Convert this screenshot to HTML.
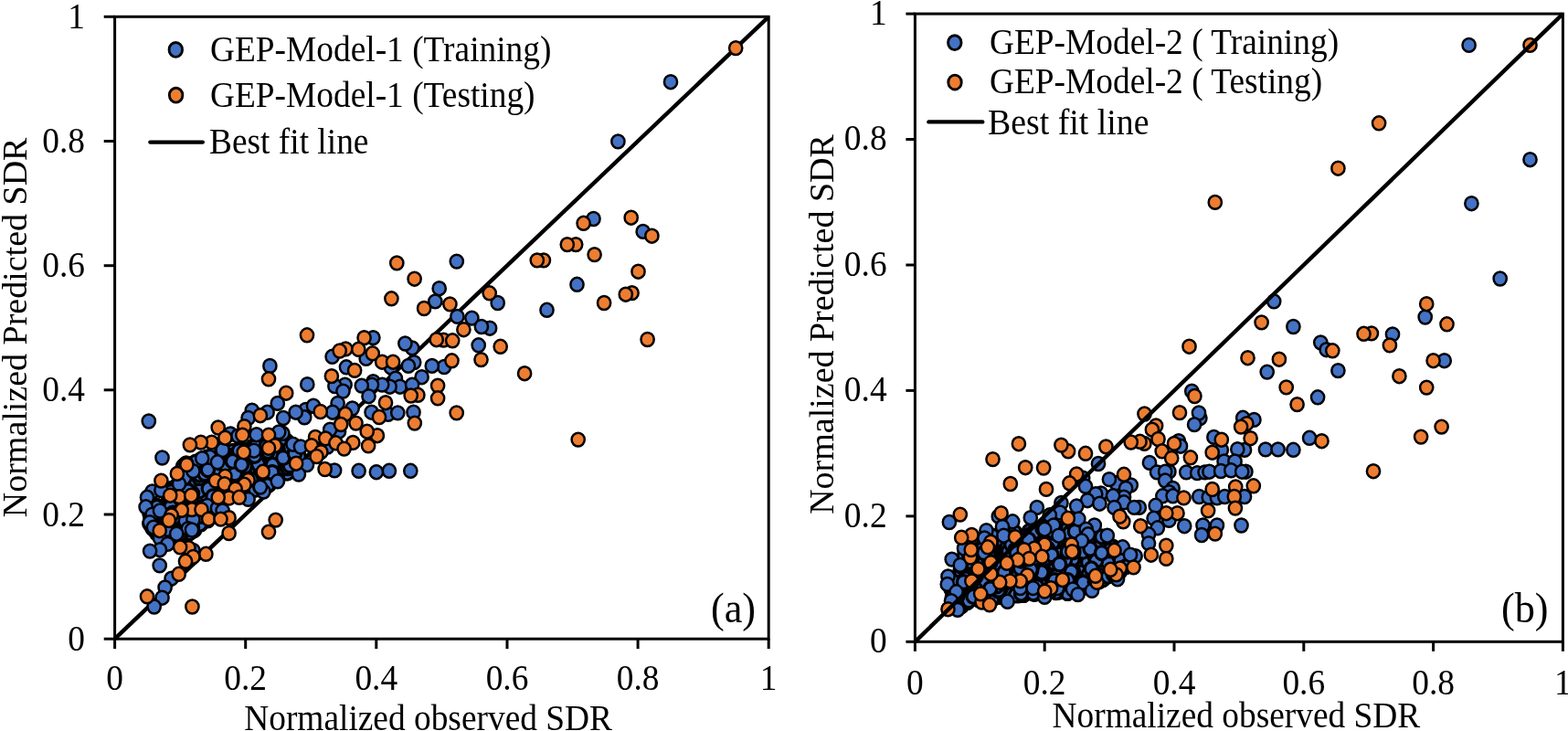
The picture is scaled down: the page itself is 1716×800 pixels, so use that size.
<!DOCTYPE html>
<html lang="en"><head><meta charset="utf-8"><title>GEP models: normalized predicted vs observed SDR</title>
<style>
html,body{margin:0;padding:0;background:#fff;}
body{width:1716px;height:800px;overflow:hidden;}
svg{display:block;font-family:"Liberation Serif",serif;fill:#000;}
ellipse{stroke:#000}
ellipse:not([stroke-width]){stroke-width:2.5}
</style></head><body>
<svg width="1716" height="800" viewBox="0 0 1716 800">
<rect width="1716" height="800" fill="#fff"/>

<g id="plot-a">
<rect x="125.6" y="18.3" width="715.6" height="680.9" fill="none" stroke="#000" stroke-width="3.0"/>
<line x1="125.6" y1="699.2" x2="125.6" y2="710.1" stroke="#000" stroke-width="3.0"/>
<line x1="113.7" y1="699.2" x2="125.6" y2="699.2" stroke="#000" stroke-width="3.0"/>
<line x1="268.7" y1="699.2" x2="268.7" y2="710.1" stroke="#000" stroke-width="3.0"/>
<line x1="113.7" y1="563.0" x2="125.6" y2="563.0" stroke="#000" stroke-width="3.0"/>
<line x1="411.8" y1="699.2" x2="411.8" y2="710.1" stroke="#000" stroke-width="3.0"/>
<line x1="113.7" y1="426.8" x2="125.6" y2="426.8" stroke="#000" stroke-width="3.0"/>
<line x1="555.0" y1="699.2" x2="555.0" y2="710.1" stroke="#000" stroke-width="3.0"/>
<line x1="113.7" y1="290.7" x2="125.6" y2="290.7" stroke="#000" stroke-width="3.0"/>
<line x1="698.1" y1="699.2" x2="698.1" y2="710.1" stroke="#000" stroke-width="3.0"/>
<line x1="113.7" y1="154.5" x2="125.6" y2="154.5" stroke="#000" stroke-width="3.0"/>
<line x1="841.2" y1="699.2" x2="841.2" y2="710.1" stroke="#000" stroke-width="3.0"/>
<line x1="113.7" y1="18.3" x2="125.6" y2="18.3" stroke="#000" stroke-width="3.0"/>
<line x1="125.6" y1="699.2" x2="841.2" y2="18.3" stroke="#000" stroke-width="4.4"/>
<g>
<ellipse cx="303.3" cy="501.2" rx="7.1" ry="7.45" fill="#4472C4" stroke-width="3.3"/>
<ellipse cx="265.2" cy="492.4" rx="7.1" ry="7.45" fill="#4472C4" stroke-width="3.3"/>
<ellipse cx="264.6" cy="493.2" rx="7.1" ry="7.45" fill="#4472C4" stroke-width="3.3"/>
<ellipse cx="263.3" cy="504.9" rx="7.1" ry="7.45" fill="#4472C4" stroke-width="3.3"/>
<ellipse cx="287.7" cy="494.2" rx="7.1" ry="7.45" fill="#4472C4" stroke-width="3.3"/>
<ellipse cx="231.9" cy="544.3" rx="7.1" ry="7.45" fill="#4472C4" stroke-width="3.3"/>
<ellipse cx="242.9" cy="539.0" rx="7.1" ry="7.45" fill="#4472C4" stroke-width="3.3"/>
<ellipse cx="267.0" cy="529.4" rx="7.1" ry="7.45" fill="#4472C4" stroke-width="3.3"/>
<ellipse cx="216.2" cy="515.7" rx="7.1" ry="7.45" fill="#4472C4" stroke-width="3.3"/>
<ellipse cx="300.7" cy="497.0" rx="7.1" ry="7.45" fill="#4472C4" stroke-width="3.3"/>
<ellipse cx="310.4" cy="495.9" rx="7.1" ry="7.45" fill="#4472C4" stroke-width="3.3"/>
<ellipse cx="299.9" cy="517.8" rx="7.1" ry="7.45" fill="#4472C4" stroke-width="3.3"/>
<ellipse cx="209.3" cy="519.9" rx="7.1" ry="7.45" fill="#4472C4" stroke-width="3.3"/>
<ellipse cx="261.3" cy="492.1" rx="7.1" ry="7.45" fill="#4472C4" stroke-width="3.3"/>
<ellipse cx="286.6" cy="487.1" rx="7.1" ry="7.45" fill="#4472C4" stroke-width="3.3"/>
<ellipse cx="236.1" cy="525.7" rx="7.1" ry="7.45" fill="#4472C4" stroke-width="3.3"/>
<ellipse cx="293.9" cy="513.0" rx="7.1" ry="7.45" fill="#4472C4" stroke-width="3.3"/>
<ellipse cx="229.9" cy="521.3" rx="7.1" ry="7.45" fill="#4472C4" stroke-width="3.3"/>
<ellipse cx="211.6" cy="531.5" rx="7.1" ry="7.45" fill="#4472C4" stroke-width="3.3"/>
<ellipse cx="284.7" cy="517.9" rx="7.1" ry="7.45" fill="#4472C4" stroke-width="3.3"/>
<ellipse cx="324.2" cy="496.9" rx="7.1" ry="7.45" fill="#4472C4" stroke-width="3.3"/>
<ellipse cx="261.0" cy="515.5" rx="7.1" ry="7.45" fill="#4472C4" stroke-width="3.3"/>
<ellipse cx="254.9" cy="493.9" rx="7.1" ry="7.45" fill="#4472C4" stroke-width="3.3"/>
<ellipse cx="271.3" cy="533.4" rx="7.1" ry="7.45" fill="#4472C4" stroke-width="3.3"/>
<ellipse cx="241.7" cy="532.9" rx="7.1" ry="7.45" fill="#4472C4" stroke-width="3.3"/>
<ellipse cx="322.4" cy="508.8" rx="7.1" ry="7.45" fill="#4472C4" stroke-width="3.3"/>
<ellipse cx="217.8" cy="538.6" rx="7.1" ry="7.45" fill="#4472C4" stroke-width="3.3"/>
<ellipse cx="282.0" cy="515.4" rx="7.1" ry="7.45" fill="#4472C4" stroke-width="3.3"/>
<ellipse cx="218.6" cy="508.6" rx="7.1" ry="7.45" fill="#4472C4" stroke-width="3.3"/>
<ellipse cx="283.7" cy="502.9" rx="7.1" ry="7.45" fill="#4472C4" stroke-width="3.3"/>
<ellipse cx="210.7" cy="522.0" rx="7.1" ry="7.45" fill="#4472C4" stroke-width="3.3"/>
<ellipse cx="313.4" cy="503.3" rx="7.1" ry="7.45" fill="#4472C4" stroke-width="3.3"/>
<ellipse cx="225.0" cy="516.7" rx="7.1" ry="7.45" fill="#4472C4" stroke-width="3.3"/>
<ellipse cx="283.9" cy="525.2" rx="7.1" ry="7.45" fill="#4472C4" stroke-width="3.3"/>
<ellipse cx="299.4" cy="498.7" rx="7.1" ry="7.45" fill="#4472C4" stroke-width="3.3"/>
<ellipse cx="244.8" cy="505.4" rx="7.1" ry="7.45" fill="#4472C4" stroke-width="3.3"/>
<ellipse cx="258.0" cy="519.0" rx="7.1" ry="7.45" fill="#4472C4" stroke-width="3.3"/>
<ellipse cx="236.6" cy="527.6" rx="7.1" ry="7.45" fill="#4472C4" stroke-width="3.3"/>
<ellipse cx="282.8" cy="507.9" rx="7.1" ry="7.45" fill="#4472C4" stroke-width="3.3"/>
<ellipse cx="248.0" cy="499.0" rx="7.1" ry="7.45" fill="#4472C4" stroke-width="3.3"/>
<ellipse cx="290.4" cy="512.9" rx="7.1" ry="7.45" fill="#4472C4" stroke-width="3.3"/>
<ellipse cx="232.7" cy="541.3" rx="7.1" ry="7.45" fill="#4472C4" stroke-width="3.3"/>
<ellipse cx="281.4" cy="522.3" rx="7.1" ry="7.45" fill="#4472C4" stroke-width="3.3"/>
<ellipse cx="270.6" cy="494.1" rx="7.1" ry="7.45" fill="#4472C4" stroke-width="3.3"/>
<ellipse cx="233.3" cy="540.1" rx="7.1" ry="7.45" fill="#4472C4" stroke-width="3.3"/>
<ellipse cx="297.3" cy="484.6" rx="7.1" ry="7.45" fill="#4472C4" stroke-width="3.3"/>
<ellipse cx="302.2" cy="497.0" rx="7.1" ry="7.45" fill="#4472C4" stroke-width="3.3"/>
<ellipse cx="198.7" cy="515.1" rx="7.1" ry="7.45" fill="#4472C4" stroke-width="3.3"/>
<ellipse cx="298.3" cy="504.0" rx="7.1" ry="7.45" fill="#4472C4" stroke-width="3.3"/>
<ellipse cx="212.3" cy="518.7" rx="7.1" ry="7.45" fill="#4472C4" stroke-width="3.3"/>
<ellipse cx="223.8" cy="537.2" rx="7.1" ry="7.45" fill="#4472C4" stroke-width="3.3"/>
<ellipse cx="262.8" cy="524.3" rx="7.1" ry="7.45" fill="#4472C4" stroke-width="3.3"/>
<ellipse cx="242.3" cy="515.8" rx="7.1" ry="7.45" fill="#4472C4" stroke-width="3.3"/>
<ellipse cx="296.4" cy="491.8" rx="7.1" ry="7.45" fill="#4472C4" stroke-width="3.3"/>
<ellipse cx="260.2" cy="519.9" rx="7.1" ry="7.45" fill="#4472C4" stroke-width="3.3"/>
<ellipse cx="296.9" cy="492.5" rx="7.1" ry="7.45" fill="#4472C4" stroke-width="3.3"/>
<ellipse cx="234.0" cy="534.6" rx="7.1" ry="7.45" fill="#4472C4" stroke-width="3.3"/>
<ellipse cx="228.1" cy="533.6" rx="7.1" ry="7.45" fill="#4472C4" stroke-width="3.3"/>
<ellipse cx="200.4" cy="518.4" rx="7.1" ry="7.45" fill="#4472C4" stroke-width="3.3"/>
<ellipse cx="207.6" cy="542.6" rx="7.1" ry="7.45" fill="#4472C4" stroke-width="3.3"/>
<ellipse cx="214.7" cy="530.0" rx="7.1" ry="7.45" fill="#4472C4" stroke-width="3.3"/>
<ellipse cx="205.8" cy="519.9" rx="7.1" ry="7.45" fill="#4472C4" stroke-width="3.3"/>
<ellipse cx="217.5" cy="546.0" rx="7.1" ry="7.45" fill="#4472C4" stroke-width="3.3"/>
<ellipse cx="314.3" cy="517.7" rx="7.1" ry="7.45" fill="#4472C4" stroke-width="3.3"/>
<ellipse cx="205.4" cy="529.2" rx="7.1" ry="7.45" fill="#4472C4" stroke-width="3.3"/>
<ellipse cx="210.7" cy="532.5" rx="7.1" ry="7.45" fill="#4472C4" stroke-width="3.3"/>
<ellipse cx="294.9" cy="518.1" rx="7.1" ry="7.45" fill="#4472C4" stroke-width="3.3"/>
<ellipse cx="216.7" cy="545.2" rx="7.1" ry="7.45" fill="#4472C4" stroke-width="3.3"/>
<ellipse cx="215.1" cy="505.8" rx="7.1" ry="7.45" fill="#4472C4" stroke-width="3.3"/>
<ellipse cx="283.3" cy="524.7" rx="7.1" ry="7.45" fill="#4472C4" stroke-width="3.3"/>
<ellipse cx="264.7" cy="523.9" rx="7.1" ry="7.45" fill="#4472C4" stroke-width="3.3"/>
<ellipse cx="236.1" cy="507.7" rx="7.1" ry="7.45" fill="#4472C4" stroke-width="3.3"/>
<ellipse cx="282.7" cy="509.2" rx="7.1" ry="7.45" fill="#4472C4" stroke-width="3.3"/>
<ellipse cx="226.7" cy="518.5" rx="7.1" ry="7.45" fill="#4472C4" stroke-width="3.3"/>
<ellipse cx="207.2" cy="528.9" rx="7.1" ry="7.45" fill="#4472C4" stroke-width="3.3"/>
<ellipse cx="265.9" cy="523.0" rx="7.1" ry="7.45" fill="#4472C4" stroke-width="3.3"/>
<ellipse cx="299.3" cy="522.5" rx="7.1" ry="7.45" fill="#4472C4" stroke-width="3.3"/>
<ellipse cx="257.9" cy="528.4" rx="7.1" ry="7.45" fill="#4472C4" stroke-width="3.3"/>
<ellipse cx="185.5" cy="542.5" rx="7.1" ry="7.45" fill="#4472C4" stroke-width="3.3"/>
<ellipse cx="211.6" cy="522.3" rx="7.1" ry="7.45" fill="#4472C4" stroke-width="3.3"/>
<ellipse cx="213.7" cy="518.2" rx="7.1" ry="7.45" fill="#4472C4" stroke-width="3.3"/>
<ellipse cx="298.7" cy="498.2" rx="7.1" ry="7.45" fill="#4472C4" stroke-width="3.3"/>
<ellipse cx="264.8" cy="532.8" rx="7.1" ry="7.45" fill="#4472C4" stroke-width="3.3"/>
<ellipse cx="297.4" cy="503.2" rx="7.1" ry="7.45" fill="#4472C4" stroke-width="3.3"/>
<ellipse cx="200.9" cy="521.3" rx="7.1" ry="7.45" fill="#4472C4" stroke-width="3.3"/>
<ellipse cx="227.1" cy="500.4" rx="7.1" ry="7.45" fill="#4472C4" stroke-width="3.3"/>
<ellipse cx="212.9" cy="507.3" rx="7.1" ry="7.45" fill="#4472C4" stroke-width="3.3"/>
<ellipse cx="282.3" cy="507.9" rx="7.1" ry="7.45" fill="#4472C4" stroke-width="3.3"/>
<ellipse cx="277.0" cy="528.9" rx="7.1" ry="7.45" fill="#4472C4" stroke-width="3.3"/>
<ellipse cx="301.1" cy="518.8" rx="7.1" ry="7.45" fill="#4472C4" stroke-width="3.3"/>
<ellipse cx="261.0" cy="524.4" rx="7.1" ry="7.45" fill="#4472C4" stroke-width="3.3"/>
<ellipse cx="316.8" cy="492.2" rx="7.1" ry="7.45" fill="#4472C4" stroke-width="3.3"/>
<ellipse cx="244.0" cy="527.3" rx="7.1" ry="7.45" fill="#4472C4" stroke-width="3.3"/>
<ellipse cx="221.2" cy="502.3" rx="7.1" ry="7.45" fill="#4472C4" stroke-width="3.3"/>
<ellipse cx="242.7" cy="507.3" rx="7.1" ry="7.45" fill="#4472C4" stroke-width="3.3"/>
<ellipse cx="276.4" cy="529.6" rx="7.1" ry="7.45" fill="#4472C4" stroke-width="3.3"/>
<ellipse cx="215.8" cy="522.0" rx="7.1" ry="7.45" fill="#4472C4" stroke-width="3.3"/>
<ellipse cx="292.4" cy="492.0" rx="7.1" ry="7.45" fill="#4472C4" stroke-width="3.3"/>
<ellipse cx="238.9" cy="502.1" rx="7.1" ry="7.45" fill="#4472C4" stroke-width="3.3"/>
<ellipse cx="274.2" cy="502.4" rx="7.1" ry="7.45" fill="#4472C4" stroke-width="3.3"/>
<ellipse cx="270.3" cy="511.5" rx="7.1" ry="7.45" fill="#4472C4" stroke-width="3.3"/>
<ellipse cx="233.0" cy="507.3" rx="7.1" ry="7.45" fill="#4472C4" stroke-width="3.3"/>
<ellipse cx="202.2" cy="531.4" rx="7.1" ry="7.45" fill="#4472C4" stroke-width="3.3"/>
<ellipse cx="237.0" cy="526.4" rx="7.1" ry="7.45" fill="#4472C4" stroke-width="3.3"/>
<ellipse cx="299.1" cy="490.5" rx="7.1" ry="7.45" fill="#4472C4" stroke-width="3.3"/>
<ellipse cx="293.0" cy="496.9" rx="7.1" ry="7.45" fill="#4472C4" stroke-width="3.3"/>
<ellipse cx="325.6" cy="496.5" rx="7.1" ry="7.45" fill="#4472C4" stroke-width="3.3"/>
<ellipse cx="256.7" cy="513.7" rx="7.1" ry="7.45" fill="#4472C4" stroke-width="3.3"/>
<ellipse cx="303.6" cy="520.3" rx="7.1" ry="7.45" fill="#4472C4" stroke-width="3.3"/>
<ellipse cx="311.5" cy="502.6" rx="7.1" ry="7.45" fill="#4472C4" stroke-width="3.3"/>
<ellipse cx="282.9" cy="530.6" rx="7.1" ry="7.45" fill="#4472C4" stroke-width="3.3"/>
<ellipse cx="296.8" cy="490.1" rx="7.1" ry="7.45" fill="#4472C4" stroke-width="3.3"/>
<ellipse cx="268.4" cy="524.0" rx="7.1" ry="7.45" fill="#4472C4" stroke-width="3.3"/>
<ellipse cx="325.3" cy="502.0" rx="7.1" ry="7.45" fill="#4472C4" stroke-width="3.3"/>
<ellipse cx="276.3" cy="497.2" rx="7.1" ry="7.45" fill="#4472C4" stroke-width="3.3"/>
<ellipse cx="196.6" cy="526.1" rx="7.1" ry="7.45" fill="#4472C4" stroke-width="3.3"/>
<ellipse cx="280.8" cy="514.2" rx="7.1" ry="7.45" fill="#4472C4" stroke-width="3.3"/>
<ellipse cx="221.4" cy="536.9" rx="7.1" ry="7.45" fill="#4472C4" stroke-width="3.3"/>
<ellipse cx="298.6" cy="497.0" rx="7.1" ry="7.45" fill="#4472C4" stroke-width="3.3"/>
<ellipse cx="237.6" cy="519.3" rx="7.1" ry="7.45" fill="#4472C4" stroke-width="3.3"/>
<ellipse cx="185.6" cy="543.5" rx="7.1" ry="7.45" fill="#4472C4" stroke-width="3.3"/>
<ellipse cx="280.9" cy="515.3" rx="7.1" ry="7.45" fill="#4472C4" stroke-width="3.3"/>
<ellipse cx="291.9" cy="529.8" rx="7.1" ry="7.45" fill="#4472C4" stroke-width="3.3"/>
<ellipse cx="234.1" cy="542.1" rx="7.1" ry="7.45" fill="#4472C4" stroke-width="3.3"/>
<ellipse cx="251.5" cy="517.6" rx="7.1" ry="7.45" fill="#4472C4" stroke-width="3.3"/>
<ellipse cx="264.0" cy="490.5" rx="7.1" ry="7.45" fill="#4472C4" stroke-width="3.3"/>
<ellipse cx="314.2" cy="490.8" rx="7.1" ry="7.45" fill="#4472C4" stroke-width="3.3"/>
<ellipse cx="282.5" cy="517.8" rx="7.1" ry="7.45" fill="#4472C4" stroke-width="3.3"/>
<ellipse cx="219.6" cy="527.3" rx="7.1" ry="7.45" fill="#4472C4" stroke-width="3.3"/>
<ellipse cx="258.1" cy="505.7" rx="7.1" ry="7.45" fill="#4472C4" stroke-width="3.3"/>
<ellipse cx="196.8" cy="541.3" rx="7.1" ry="7.45" fill="#4472C4" stroke-width="3.3"/>
<ellipse cx="276.1" cy="492.9" rx="7.1" ry="7.45" fill="#4472C4" stroke-width="3.3"/>
<ellipse cx="300.1" cy="493.9" rx="7.1" ry="7.45" fill="#4472C4" stroke-width="3.3"/>
<ellipse cx="279.4" cy="519.8" rx="7.1" ry="7.45" fill="#4472C4" stroke-width="3.3"/>
<ellipse cx="299.1" cy="508.6" rx="7.1" ry="7.45" fill="#4472C4" stroke-width="3.3"/>
<ellipse cx="258.6" cy="533.9" rx="7.1" ry="7.45" fill="#4472C4" stroke-width="3.3"/>
<ellipse cx="291.1" cy="523.0" rx="7.1" ry="7.45" fill="#4472C4" stroke-width="3.3"/>
<ellipse cx="244.8" cy="499.9" rx="7.1" ry="7.45" fill="#4472C4" stroke-width="3.3"/>
<ellipse cx="300.2" cy="525.2" rx="7.1" ry="7.45" fill="#4472C4" stroke-width="3.3"/>
<ellipse cx="279.6" cy="518.0" rx="7.1" ry="7.45" fill="#4472C4" stroke-width="3.3"/>
<ellipse cx="298.2" cy="519.9" rx="7.1" ry="7.45" fill="#4472C4" stroke-width="3.3"/>
<ellipse cx="220.7" cy="506.1" rx="7.1" ry="7.45" fill="#4472C4" stroke-width="3.3"/>
<ellipse cx="227.5" cy="500.8" rx="7.1" ry="7.45" fill="#4472C4" stroke-width="3.3"/>
<ellipse cx="272.2" cy="511.0" rx="7.1" ry="7.45" fill="#4472C4" stroke-width="3.3"/>
<ellipse cx="251.8" cy="519.9" rx="7.1" ry="7.45" fill="#4472C4" stroke-width="3.3"/>
<ellipse cx="233.5" cy="514.7" rx="7.1" ry="7.45" fill="#4472C4" stroke-width="3.3"/>
<ellipse cx="193.3" cy="542.9" rx="7.1" ry="7.45" fill="#4472C4" stroke-width="3.3"/>
<ellipse cx="300.3" cy="495.4" rx="7.1" ry="7.45" fill="#4472C4" stroke-width="3.3"/>
<ellipse cx="201.4" cy="523.4" rx="7.1" ry="7.45" fill="#4472C4" stroke-width="3.3"/>
<ellipse cx="303.7" cy="488.6" rx="7.1" ry="7.45" fill="#4472C4" stroke-width="3.3"/>
<ellipse cx="184.1" cy="543.0" rx="7.1" ry="7.45" fill="#4472C4" stroke-width="3.3"/>
<ellipse cx="315.8" cy="498.8" rx="7.1" ry="7.45" fill="#4472C4" stroke-width="3.3"/>
<ellipse cx="303.9" cy="501.2" rx="7.1" ry="7.45" fill="#4472C4" stroke-width="3.3"/>
<ellipse cx="271.4" cy="496.5" rx="7.1" ry="7.45" fill="#4472C4" stroke-width="3.3"/>
<ellipse cx="277.2" cy="488.4" rx="7.1" ry="7.45" fill="#4472C4" stroke-width="3.3"/>
<ellipse cx="230.2" cy="512.2" rx="7.1" ry="7.45" fill="#4472C4" stroke-width="3.3"/>
<ellipse cx="278.9" cy="522.8" rx="7.1" ry="7.45" fill="#4472C4" stroke-width="3.3"/>
<ellipse cx="259.0" cy="536.9" rx="7.1" ry="7.45" fill="#4472C4" stroke-width="3.3"/>
<ellipse cx="282.8" cy="505.0" rx="7.1" ry="7.45" fill="#4472C4" stroke-width="3.3"/>
<ellipse cx="319.4" cy="507.1" rx="7.1" ry="7.45" fill="#4472C4" stroke-width="3.3"/>
<ellipse cx="303.0" cy="505.7" rx="7.1" ry="7.45" fill="#4472C4" stroke-width="3.3"/>
<ellipse cx="241.2" cy="502.8" rx="7.1" ry="7.45" fill="#4472C4" stroke-width="3.3"/>
<ellipse cx="264.0" cy="523.8" rx="7.1" ry="7.45" fill="#4472C4" stroke-width="3.3"/>
<ellipse cx="238.1" cy="539.9" rx="7.1" ry="7.45" fill="#4472C4" stroke-width="3.3"/>
<ellipse cx="209.7" cy="508.3" rx="7.1" ry="7.45" fill="#4472C4" stroke-width="3.3"/>
<ellipse cx="243.9" cy="503.3" rx="7.1" ry="7.45" fill="#4472C4" stroke-width="3.3"/>
<ellipse cx="239.3" cy="499.6" rx="7.1" ry="7.45" fill="#4472C4" stroke-width="3.3"/>
<ellipse cx="315.3" cy="505.6" rx="7.1" ry="7.45" fill="#4472C4" stroke-width="3.3"/>
<ellipse cx="249.9" cy="517.1" rx="7.1" ry="7.45" fill="#4472C4" stroke-width="3.3"/>
<ellipse cx="278.4" cy="534.3" rx="7.1" ry="7.45" fill="#4472C4" stroke-width="3.3"/>
<ellipse cx="258.2" cy="510.0" rx="7.1" ry="7.45" fill="#4472C4" stroke-width="3.3"/>
<ellipse cx="242.6" cy="535.8" rx="7.1" ry="7.45" fill="#4472C4" stroke-width="3.3"/>
<ellipse cx="242.8" cy="517.2" rx="7.1" ry="7.45" fill="#4472C4" stroke-width="3.3"/>
<ellipse cx="220.8" cy="502.8" rx="7.1" ry="7.45" fill="#4472C4" stroke-width="3.3"/>
<ellipse cx="193.7" cy="532.4" rx="7.1" ry="7.45" fill="#4472C4" stroke-width="3.3"/>
<ellipse cx="253.9" cy="529.1" rx="7.1" ry="7.45" fill="#4472C4" stroke-width="3.3"/>
<ellipse cx="221.5" cy="502.6" rx="7.1" ry="7.45" fill="#4472C4" stroke-width="3.3"/>
<ellipse cx="297.1" cy="504.3" rx="7.1" ry="7.45" fill="#4472C4" stroke-width="3.3"/>
<ellipse cx="283.6" cy="516.2" rx="7.1" ry="7.45" fill="#4472C4" stroke-width="3.3"/>
<ellipse cx="283.8" cy="503.8" rx="7.1" ry="7.45" fill="#4472C4" stroke-width="3.3"/>
<ellipse cx="197.0" cy="537.3" rx="7.1" ry="7.45" fill="#4472C4" stroke-width="3.3"/>
<ellipse cx="289.6" cy="519.0" rx="7.1" ry="7.45" fill="#4472C4" stroke-width="3.3"/>
<ellipse cx="244.8" cy="526.2" rx="7.1" ry="7.45" fill="#4472C4" stroke-width="3.3"/>
<ellipse cx="217.6" cy="504.8" rx="7.1" ry="7.45" fill="#4472C4" stroke-width="3.3"/>
<ellipse cx="229.0" cy="534.7" rx="7.1" ry="7.45" fill="#4472C4" stroke-width="3.3"/>
<ellipse cx="282.4" cy="510.2" rx="7.1" ry="7.45" fill="#4472C4" stroke-width="3.3"/>
<ellipse cx="280.0" cy="524.9" rx="7.1" ry="7.45" fill="#4472C4" stroke-width="3.3"/>
<ellipse cx="203.1" cy="519.7" rx="7.1" ry="7.45" fill="#4472C4" stroke-width="3.3"/>
<ellipse cx="274.3" cy="494.6" rx="7.1" ry="7.45" fill="#4472C4" stroke-width="3.3"/>
<ellipse cx="211.5" cy="538.1" rx="7.1" ry="7.45" fill="#4472C4" stroke-width="3.3"/>
<ellipse cx="228.7" cy="504.0" rx="7.1" ry="7.45" fill="#4472C4" stroke-width="3.3"/>
<ellipse cx="267.7" cy="496.9" rx="7.1" ry="7.45" fill="#4472C4" stroke-width="3.3"/>
<ellipse cx="272.3" cy="502.8" rx="7.1" ry="7.45" fill="#4472C4" stroke-width="3.3"/>
<ellipse cx="200.0" cy="527.8" rx="7.1" ry="7.45" fill="#4472C4" stroke-width="3.3"/>
<ellipse cx="230.3" cy="510.0" rx="7.1" ry="7.45" fill="#4472C4" stroke-width="3.3"/>
<ellipse cx="325.4" cy="503.4" rx="7.1" ry="7.45" fill="#4472C4" stroke-width="3.3"/>
<ellipse cx="278.1" cy="504.5" rx="7.1" ry="7.45" fill="#4472C4" stroke-width="3.3"/>
<ellipse cx="238.7" cy="509.5" rx="7.1" ry="7.45" fill="#4472C4" stroke-width="3.3"/>
<ellipse cx="276.4" cy="517.8" rx="7.1" ry="7.45" fill="#4472C4" stroke-width="3.3"/>
<ellipse cx="198.4" cy="544.8" rx="7.1" ry="7.45" fill="#4472C4" stroke-width="3.3"/>
<ellipse cx="327.1" cy="499.7" rx="7.1" ry="7.45" fill="#4472C4" stroke-width="3.3"/>
<ellipse cx="232.1" cy="532.3" rx="7.1" ry="7.45" fill="#4472C4" stroke-width="3.3"/>
<ellipse cx="256.4" cy="518.5" rx="7.1" ry="7.45" fill="#4472C4" stroke-width="3.3"/>
<ellipse cx="294.4" cy="530.4" rx="7.1" ry="7.45" fill="#4472C4" stroke-width="3.3"/>
<ellipse cx="221.0" cy="513.4" rx="7.1" ry="7.45" fill="#4472C4" stroke-width="3.3"/>
<ellipse cx="235.8" cy="527.7" rx="7.1" ry="7.45" fill="#4472C4" stroke-width="3.3"/>
<ellipse cx="269.3" cy="531.5" rx="7.1" ry="7.45" fill="#4472C4" stroke-width="3.3"/>
<ellipse cx="258.2" cy="518.2" rx="7.1" ry="7.45" fill="#4472C4" stroke-width="3.3"/>
<ellipse cx="269.1" cy="533.7" rx="7.1" ry="7.45" fill="#4472C4" stroke-width="3.3"/>
<ellipse cx="229.7" cy="535.6" rx="7.1" ry="7.45" fill="#4472C4" stroke-width="3.3"/>
<ellipse cx="268.5" cy="517.7" rx="7.1" ry="7.45" fill="#4472C4" stroke-width="3.3"/>
<ellipse cx="211.5" cy="526.8" rx="7.1" ry="7.45" fill="#4472C4" stroke-width="3.3"/>
<ellipse cx="202.1" cy="509.1" rx="7.1" ry="7.45" fill="#4472C4" stroke-width="3.3"/>
<ellipse cx="320.9" cy="494.5" rx="7.1" ry="7.45" fill="#4472C4" stroke-width="3.3"/>
<ellipse cx="315.0" cy="512.2" rx="7.1" ry="7.45" fill="#4472C4" stroke-width="3.3"/>
<ellipse cx="206.2" cy="539.7" rx="7.1" ry="7.45" fill="#4472C4" stroke-width="3.3"/>
<ellipse cx="245.2" cy="541.3" rx="7.1" ry="7.45" fill="#4472C4" stroke-width="3.3"/>
<ellipse cx="261.7" cy="523.3" rx="7.1" ry="7.45" fill="#4472C4" stroke-width="3.3"/>
<ellipse cx="308.5" cy="495.9" rx="7.1" ry="7.45" fill="#4472C4" stroke-width="3.3"/>
<ellipse cx="227.3" cy="541.1" rx="7.1" ry="7.45" fill="#4472C4" stroke-width="3.3"/>
<ellipse cx="310.8" cy="487.9" rx="7.1" ry="7.45" fill="#4472C4" stroke-width="3.3"/>
<ellipse cx="298.2" cy="487.5" rx="7.1" ry="7.45" fill="#4472C4" stroke-width="3.3"/>
<ellipse cx="311.3" cy="489.1" rx="7.1" ry="7.45" fill="#4472C4" stroke-width="3.3"/>
<ellipse cx="265.4" cy="509.1" rx="7.1" ry="7.45" fill="#4472C4" stroke-width="3.3"/>
<ellipse cx="313.8" cy="492.5" rx="7.1" ry="7.45" fill="#4472C4" stroke-width="3.3"/>
<ellipse cx="256.7" cy="526.8" rx="7.1" ry="7.45" fill="#4472C4" stroke-width="3.3"/>
<ellipse cx="278.2" cy="520.7" rx="7.1" ry="7.45" fill="#4472C4" stroke-width="3.3"/>
<ellipse cx="278.2" cy="507.8" rx="7.1" ry="7.45" fill="#4472C4" stroke-width="3.3"/>
<ellipse cx="279.4" cy="535.9" rx="7.1" ry="7.45" fill="#4472C4" stroke-width="3.3"/>
<ellipse cx="281.3" cy="486.7" rx="7.1" ry="7.45" fill="#4472C4" stroke-width="3.3"/>
<ellipse cx="230.2" cy="511.3" rx="7.1" ry="7.45" fill="#4472C4" stroke-width="3.3"/>
<ellipse cx="237.1" cy="535.7" rx="7.1" ry="7.45" fill="#4472C4" stroke-width="3.3"/>
<ellipse cx="221.3" cy="542.3" rx="7.1" ry="7.45" fill="#4472C4" stroke-width="3.3"/>
<ellipse cx="288.0" cy="530.6" rx="7.1" ry="7.45" fill="#4472C4" stroke-width="3.3"/>
<ellipse cx="237.1" cy="510.1" rx="7.1" ry="7.45" fill="#4472C4" stroke-width="3.3"/>
<ellipse cx="267.0" cy="504.2" rx="7.1" ry="7.45" fill="#4472C4" stroke-width="3.3"/>
<ellipse cx="309.1" cy="494.7" rx="7.1" ry="7.45" fill="#4472C4" stroke-width="3.3"/>
<ellipse cx="262.5" cy="533.1" rx="7.1" ry="7.45" fill="#4472C4" stroke-width="3.3"/>
<ellipse cx="313.4" cy="482.5" rx="7.1" ry="7.45" fill="#4472C4" stroke-width="3.3"/>
<ellipse cx="300.5" cy="485.2" rx="7.1" ry="7.45" fill="#4472C4" stroke-width="3.3"/>
<ellipse cx="287.5" cy="521.1" rx="7.1" ry="7.45" fill="#4472C4" stroke-width="3.3"/>
<ellipse cx="289.8" cy="487.6" rx="7.1" ry="7.45" fill="#4472C4" stroke-width="3.3"/>
<ellipse cx="308.9" cy="487.6" rx="7.1" ry="7.45" fill="#4472C4" stroke-width="3.3"/>
<ellipse cx="283.1" cy="507.4" rx="7.1" ry="7.45" fill="#4472C4" stroke-width="3.3"/>
<ellipse cx="238.7" cy="514.3" rx="7.1" ry="7.45" fill="#4472C4" stroke-width="3.3"/>
<ellipse cx="306.3" cy="500.2" rx="7.1" ry="7.45" fill="#4472C4" stroke-width="3.3"/>
<ellipse cx="198.9" cy="530.0" rx="7.1" ry="7.45" fill="#4472C4" stroke-width="3.3"/>
<ellipse cx="194.4" cy="530.7" rx="7.1" ry="7.45" fill="#4472C4" stroke-width="3.3"/>
<ellipse cx="218.4" cy="523.5" rx="7.1" ry="7.45" fill="#4472C4" stroke-width="3.3"/>
<ellipse cx="293.8" cy="524.2" rx="7.1" ry="7.45" fill="#4472C4" stroke-width="3.3"/>
<ellipse cx="238.3" cy="540.4" rx="7.1" ry="7.45" fill="#4472C4" stroke-width="3.3"/>
<ellipse cx="250.3" cy="498.9" rx="7.1" ry="7.45" fill="#4472C4" stroke-width="3.3"/>
<ellipse cx="251.2" cy="534.8" rx="7.1" ry="7.45" fill="#4472C4" stroke-width="3.3"/>
<ellipse cx="317.0" cy="509.3" rx="7.1" ry="7.45" fill="#4472C4" stroke-width="3.3"/>
<ellipse cx="247.3" cy="502.0" rx="7.1" ry="7.45" fill="#4472C4" stroke-width="3.3"/>
<ellipse cx="217.9" cy="537.5" rx="7.1" ry="7.45" fill="#4472C4" stroke-width="3.3"/>
<ellipse cx="300.0" cy="498.4" rx="7.1" ry="7.45" fill="#4472C4" stroke-width="3.3"/>
<ellipse cx="195.4" cy="536.0" rx="7.1" ry="7.45" fill="#4472C4" stroke-width="3.3"/>
<ellipse cx="307.1" cy="498.3" rx="7.1" ry="7.45" fill="#4472C4" stroke-width="3.3"/>
<ellipse cx="202.1" cy="534.2" rx="7.1" ry="7.45" fill="#4472C4" stroke-width="3.3"/>
<ellipse cx="284.7" cy="532.8" rx="7.1" ry="7.45" fill="#4472C4" stroke-width="3.3"/>
<ellipse cx="276.4" cy="498.8" rx="7.1" ry="7.45" fill="#4472C4" stroke-width="3.3"/>
<ellipse cx="260.4" cy="502.7" rx="7.1" ry="7.45" fill="#4472C4" stroke-width="3.3"/>
<ellipse cx="224.4" cy="503.6" rx="7.1" ry="7.45" fill="#4472C4" stroke-width="3.3"/>
<ellipse cx="269.0" cy="492.9" rx="7.1" ry="7.45" fill="#4472C4" stroke-width="3.3"/>
<ellipse cx="205.4" cy="536.7" rx="7.1" ry="7.45" fill="#4472C4" stroke-width="3.3"/>
<ellipse cx="292.9" cy="505.2" rx="7.1" ry="7.45" fill="#4472C4" stroke-width="3.3"/>
<ellipse cx="218.6" cy="519.7" rx="7.1" ry="7.45" fill="#4472C4" stroke-width="3.3"/>
<ellipse cx="247.1" cy="522.9" rx="7.1" ry="7.45" fill="#4472C4" stroke-width="3.3"/>
<ellipse cx="234.8" cy="527.7" rx="7.1" ry="7.45" fill="#4472C4" stroke-width="3.3"/>
<ellipse cx="225.7" cy="501.5" rx="7.1" ry="7.45" fill="#4472C4" stroke-width="3.3"/>
<ellipse cx="200.6" cy="510.4" rx="7.1" ry="7.45" fill="#4472C4" stroke-width="3.3"/>
<ellipse cx="319.5" cy="486.8" rx="7.1" ry="7.45" fill="#4472C4" stroke-width="3.3"/>
<ellipse cx="301.2" cy="490.3" rx="7.1" ry="7.45" fill="#4472C4" stroke-width="3.3"/>
<ellipse cx="290.8" cy="515.1" rx="7.1" ry="7.45" fill="#4472C4" stroke-width="3.3"/>
<ellipse cx="232.4" cy="538.6" rx="7.1" ry="7.45" fill="#4472C4" stroke-width="3.3"/>
<ellipse cx="270.0" cy="502.8" rx="7.1" ry="7.45" fill="#4472C4" stroke-width="3.3"/>
<ellipse cx="285.2" cy="501.0" rx="7.1" ry="7.45" fill="#4472C4" stroke-width="3.3"/>
<ellipse cx="249.9" cy="536.6" rx="7.1" ry="7.45" fill="#4472C4" stroke-width="3.3"/>
<ellipse cx="303.8" cy="525.4" rx="7.1" ry="7.45" fill="#4472C4" stroke-width="3.3"/>
<ellipse cx="241.6" cy="506.9" rx="7.1" ry="7.45" fill="#4472C4" stroke-width="3.3"/>
<ellipse cx="246.3" cy="508.8" rx="7.1" ry="7.45" fill="#4472C4" stroke-width="3.3"/>
<ellipse cx="188.4" cy="534.5" rx="7.1" ry="7.45" fill="#4472C4" stroke-width="3.3"/>
<ellipse cx="228.0" cy="509.4" rx="7.1" ry="7.45" fill="#4472C4" stroke-width="3.3"/>
<ellipse cx="305.2" cy="495.2" rx="7.1" ry="7.45" fill="#4472C4" stroke-width="3.3"/>
<ellipse cx="257.2" cy="499.2" rx="7.1" ry="7.45" fill="#4472C4" stroke-width="3.3"/>
<ellipse cx="271.7" cy="517.1" rx="7.1" ry="7.45" fill="#4472C4" stroke-width="3.3"/>
<ellipse cx="280.1" cy="488.2" rx="7.1" ry="7.45" fill="#4472C4" stroke-width="3.3"/>
<ellipse cx="275.0" cy="524.7" rx="7.1" ry="7.45" fill="#4472C4" stroke-width="3.3"/>
<ellipse cx="192.0" cy="544.4" rx="7.1" ry="7.45" fill="#4472C4" stroke-width="3.3"/>
<ellipse cx="297.6" cy="514.2" rx="7.1" ry="7.45" fill="#4472C4" stroke-width="3.3"/>
<ellipse cx="316.6" cy="492.0" rx="7.1" ry="7.45" fill="#4472C4" stroke-width="3.3"/>
<ellipse cx="287.5" cy="533.2" rx="7.1" ry="7.45" fill="#4472C4" stroke-width="3.3"/>
<ellipse cx="189.9" cy="534.9" rx="7.1" ry="7.45" fill="#4472C4" stroke-width="3.3"/>
<ellipse cx="224.0" cy="518.3" rx="7.1" ry="7.45" fill="#4472C4" stroke-width="3.3"/>
<ellipse cx="263.1" cy="491.3" rx="7.1" ry="7.45" fill="#4472C4" stroke-width="3.3"/>
<ellipse cx="257.2" cy="517.7" rx="7.1" ry="7.45" fill="#4472C4" stroke-width="3.3"/>
<ellipse cx="292.6" cy="494.3" rx="7.1" ry="7.45" fill="#4472C4" stroke-width="3.3"/>
<ellipse cx="261.5" cy="493.2" rx="7.1" ry="7.45" fill="#4472C4" stroke-width="3.3"/>
<ellipse cx="222.4" cy="507.9" rx="7.1" ry="7.45" fill="#4472C4" stroke-width="3.3"/>
<ellipse cx="227.4" cy="514.2" rx="7.1" ry="7.45" fill="#4472C4" stroke-width="3.3"/>
<ellipse cx="322.6" cy="495.5" rx="7.1" ry="7.45" fill="#4472C4" stroke-width="3.3"/>
<ellipse cx="304.1" cy="491.6" rx="7.1" ry="7.45" fill="#4472C4" stroke-width="3.3"/>
<ellipse cx="246.9" cy="525.3" rx="7.1" ry="7.45" fill="#4472C4" stroke-width="3.3"/>
<ellipse cx="260.1" cy="529.2" rx="7.1" ry="7.45" fill="#4472C4" stroke-width="3.3"/>
<ellipse cx="210.6" cy="540.1" rx="7.1" ry="7.45" fill="#4472C4" stroke-width="3.3"/>
<ellipse cx="269.0" cy="521.4" rx="7.1" ry="7.45" fill="#4472C4" stroke-width="3.3"/>
<ellipse cx="268.2" cy="510.5" rx="7.1" ry="7.45" fill="#4472C4" stroke-width="3.3"/>
<ellipse cx="269.5" cy="494.2" rx="7.1" ry="7.45" fill="#4472C4" stroke-width="3.3"/>
<ellipse cx="282.7" cy="508.1" rx="7.1" ry="7.45" fill="#4472C4" stroke-width="3.3"/>
<ellipse cx="278.7" cy="498.9" rx="7.1" ry="7.45" fill="#4472C4" stroke-width="3.3"/>
<ellipse cx="200.3" cy="524.8" rx="7.1" ry="7.45" fill="#4472C4" stroke-width="3.3"/>
<ellipse cx="303.4" cy="495.6" rx="7.1" ry="7.45" fill="#4472C4" stroke-width="3.3"/>
<ellipse cx="187.4" cy="538.0" rx="7.1" ry="7.45" fill="#4472C4" stroke-width="3.3"/>
<ellipse cx="292.7" cy="531.4" rx="7.1" ry="7.45" fill="#4472C4" stroke-width="3.3"/>
<ellipse cx="298.3" cy="508.9" rx="7.1" ry="7.45" fill="#4472C4" stroke-width="3.3"/>
<ellipse cx="228.2" cy="534.8" rx="7.1" ry="7.45" fill="#4472C4" stroke-width="3.3"/>
<ellipse cx="293.1" cy="494.0" rx="7.1" ry="7.45" fill="#4472C4" stroke-width="3.3"/>
<ellipse cx="309.8" cy="501.0" rx="7.1" ry="7.45" fill="#4472C4" stroke-width="3.3"/>
<ellipse cx="291.2" cy="488.5" rx="7.1" ry="7.45" fill="#4472C4" stroke-width="3.3"/>
<ellipse cx="257.3" cy="518.3" rx="7.1" ry="7.45" fill="#4472C4" stroke-width="3.3"/>
<ellipse cx="214.3" cy="505.5" rx="7.1" ry="7.45" fill="#4472C4" stroke-width="3.3"/>
<ellipse cx="203.8" cy="507.3" rx="7.1" ry="7.45" fill="#4472C4" stroke-width="3.3"/>
<ellipse cx="202.3" cy="522.8" rx="7.1" ry="7.45" fill="#4472C4" stroke-width="3.3"/>
<ellipse cx="254.5" cy="504.9" rx="7.1" ry="7.45" fill="#4472C4" stroke-width="3.3"/>
<ellipse cx="232.9" cy="543.3" rx="7.1" ry="7.45" fill="#4472C4" stroke-width="3.3"/>
<ellipse cx="205.9" cy="537.4" rx="7.1" ry="7.45" fill="#4472C4" stroke-width="3.3"/>
<ellipse cx="322.5" cy="496.4" rx="7.1" ry="7.45" fill="#4472C4" stroke-width="3.3"/>
<ellipse cx="264.4" cy="508.6" rx="7.1" ry="7.45" fill="#4472C4" stroke-width="3.3"/>
<ellipse cx="297.9" cy="517.0" rx="7.1" ry="7.45" fill="#4472C4" stroke-width="3.3"/>
<ellipse cx="235.1" cy="554.0" rx="7.1" ry="7.45" fill="#4472C4" stroke-width="3.3"/>
<ellipse cx="167.9" cy="569.1" rx="7.1" ry="7.45" fill="#4472C4" stroke-width="3.3"/>
<ellipse cx="215.7" cy="568.4" rx="7.1" ry="7.45" fill="#4472C4" stroke-width="3.3"/>
<ellipse cx="182.9" cy="583.0" rx="7.1" ry="7.45" fill="#4472C4" stroke-width="3.3"/>
<ellipse cx="170.1" cy="580.4" rx="7.1" ry="7.45" fill="#4472C4" stroke-width="3.3"/>
<ellipse cx="212.6" cy="580.2" rx="7.1" ry="7.45" fill="#4472C4" stroke-width="3.3"/>
<ellipse cx="192.7" cy="583.9" rx="7.1" ry="7.45" fill="#4472C4" stroke-width="3.3"/>
<ellipse cx="185.4" cy="561.1" rx="7.1" ry="7.45" fill="#4472C4" stroke-width="3.3"/>
<ellipse cx="175.5" cy="578.2" rx="7.1" ry="7.45" fill="#4472C4" stroke-width="3.3"/>
<ellipse cx="198.5" cy="573.2" rx="7.1" ry="7.45" fill="#4472C4" stroke-width="3.3"/>
<ellipse cx="195.5" cy="573.4" rx="7.1" ry="7.45" fill="#4472C4" stroke-width="3.3"/>
<ellipse cx="191.4" cy="574.8" rx="7.1" ry="7.45" fill="#4472C4" stroke-width="3.3"/>
<ellipse cx="171.6" cy="560.8" rx="7.1" ry="7.45" fill="#4472C4" stroke-width="3.3"/>
<ellipse cx="178.9" cy="581.4" rx="7.1" ry="7.45" fill="#4472C4" stroke-width="3.3"/>
<ellipse cx="178.2" cy="573.8" rx="7.1" ry="7.45" fill="#4472C4" stroke-width="3.3"/>
<ellipse cx="179.4" cy="585.7" rx="7.1" ry="7.45" fill="#4472C4" stroke-width="3.3"/>
<ellipse cx="184.8" cy="566.4" rx="7.1" ry="7.45" fill="#4472C4" stroke-width="3.3"/>
<ellipse cx="175.4" cy="561.3" rx="7.1" ry="7.45" fill="#4472C4" stroke-width="3.3"/>
<ellipse cx="227.2" cy="569.5" rx="7.1" ry="7.45" fill="#4472C4" stroke-width="3.3"/>
<ellipse cx="185.9" cy="566.7" rx="7.1" ry="7.45" fill="#4472C4" stroke-width="3.3"/>
<ellipse cx="186.8" cy="563.1" rx="7.1" ry="7.45" fill="#4472C4" stroke-width="3.3"/>
<ellipse cx="182.3" cy="581.9" rx="7.1" ry="7.45" fill="#4472C4" stroke-width="3.3"/>
<ellipse cx="167.6" cy="565.5" rx="7.1" ry="7.45" fill="#4472C4" stroke-width="3.3"/>
<ellipse cx="162.1" cy="555.1" rx="7.1" ry="7.45" fill="#4472C4" stroke-width="3.3"/>
<ellipse cx="173.5" cy="563.7" rx="7.1" ry="7.45" fill="#4472C4" stroke-width="3.3"/>
<ellipse cx="196.8" cy="571.8" rx="7.1" ry="7.45" fill="#4472C4" stroke-width="3.3"/>
<ellipse cx="176.1" cy="572.4" rx="7.1" ry="7.45" fill="#4472C4" stroke-width="3.3"/>
<ellipse cx="180.9" cy="587.6" rx="7.1" ry="7.45" fill="#4472C4" stroke-width="3.3"/>
<ellipse cx="208.8" cy="580.0" rx="7.1" ry="7.45" fill="#4472C4" stroke-width="3.3"/>
<ellipse cx="165.8" cy="566.6" rx="7.1" ry="7.45" fill="#4472C4" stroke-width="3.3"/>
<ellipse cx="186.5" cy="567.4" rx="7.1" ry="7.45" fill="#4472C4" stroke-width="3.3"/>
<ellipse cx="170.7" cy="553.4" rx="7.1" ry="7.45" fill="#4472C4" stroke-width="3.3"/>
<ellipse cx="230.0" cy="559.9" rx="7.1" ry="7.45" fill="#4472C4" stroke-width="3.3"/>
<ellipse cx="199.0" cy="573.2" rx="7.1" ry="7.45" fill="#4472C4" stroke-width="3.3"/>
<ellipse cx="174.8" cy="563.6" rx="7.1" ry="7.45" fill="#4472C4" stroke-width="3.3"/>
<ellipse cx="170.7" cy="553.5" rx="7.1" ry="7.45" fill="#4472C4" stroke-width="3.3"/>
<ellipse cx="191.2" cy="584.0" rx="7.1" ry="7.45" fill="#4472C4" stroke-width="3.3"/>
<ellipse cx="177.9" cy="569.2" rx="7.1" ry="7.45" fill="#4472C4" stroke-width="3.3"/>
<ellipse cx="193.5" cy="572.1" rx="7.1" ry="7.45" fill="#4472C4" stroke-width="3.3"/>
<ellipse cx="177.4" cy="555.1" rx="7.1" ry="7.45" fill="#4472C4" stroke-width="3.3"/>
<ellipse cx="187.8" cy="589.1" rx="7.1" ry="7.45" fill="#4472C4" stroke-width="3.3"/>
<ellipse cx="210.2" cy="569.9" rx="7.1" ry="7.45" fill="#4472C4" stroke-width="3.3"/>
<ellipse cx="184.6" cy="579.5" rx="7.1" ry="7.45" fill="#4472C4" stroke-width="3.3"/>
<ellipse cx="171.5" cy="575.7" rx="7.1" ry="7.45" fill="#4472C4" stroke-width="3.3"/>
<ellipse cx="203.0" cy="555.9" rx="7.1" ry="7.45" fill="#4472C4" stroke-width="3.3"/>
<ellipse cx="203.1" cy="565.7" rx="7.1" ry="7.45" fill="#4472C4" stroke-width="3.3"/>
<ellipse cx="176.5" cy="557.3" rx="7.1" ry="7.45" fill="#4472C4" stroke-width="3.3"/>
<ellipse cx="219.7" cy="573.5" rx="7.1" ry="7.45" fill="#4472C4" stroke-width="3.3"/>
<ellipse cx="193.2" cy="579.0" rx="7.1" ry="7.45" fill="#4472C4" stroke-width="3.3"/>
<ellipse cx="182.1" cy="569.8" rx="7.1" ry="7.45" fill="#4472C4" stroke-width="3.3"/>
<ellipse cx="201.8" cy="566.5" rx="7.1" ry="7.45" fill="#4472C4" stroke-width="3.3"/>
<ellipse cx="208.4" cy="582.1" rx="7.1" ry="7.45" fill="#4472C4" stroke-width="3.3"/>
<ellipse cx="183.6" cy="581.4" rx="7.1" ry="7.45" fill="#4472C4" stroke-width="3.3"/>
<ellipse cx="221.2" cy="563.4" rx="7.1" ry="7.45" fill="#4472C4" stroke-width="3.3"/>
<ellipse cx="197.9" cy="562.4" rx="7.1" ry="7.45" fill="#4472C4" stroke-width="3.3"/>
<ellipse cx="205.1" cy="561.0" rx="7.1" ry="7.45" fill="#4472C4" stroke-width="3.3"/>
<ellipse cx="164.6" cy="563.0" rx="7.1" ry="7.45" fill="#4472C4" stroke-width="3.3"/>
<ellipse cx="166.0" cy="564.3" rx="7.1" ry="7.45" fill="#4472C4" stroke-width="3.3"/>
<ellipse cx="187.6" cy="564.7" rx="7.1" ry="7.45" fill="#4472C4" stroke-width="3.3"/>
<ellipse cx="181.6" cy="586.3" rx="7.1" ry="7.45" fill="#4472C4" stroke-width="3.3"/>
<ellipse cx="201.4" cy="554.0" rx="7.1" ry="7.45" fill="#4472C4" stroke-width="3.3"/>
<ellipse cx="200.3" cy="556.5" rx="7.1" ry="7.45" fill="#4472C4" stroke-width="3.3"/>
<ellipse cx="182.8" cy="588.4" rx="7.1" ry="7.45" fill="#4472C4" stroke-width="3.3"/>
<ellipse cx="197.8" cy="565.5" rx="7.1" ry="7.45" fill="#4472C4" stroke-width="3.3"/>
<ellipse cx="178.8" cy="562.4" rx="7.1" ry="7.45" fill="#4472C4" stroke-width="3.3"/>
<ellipse cx="164.9" cy="566.3" rx="7.1" ry="7.45" fill="#4472C4" stroke-width="3.3"/>
<ellipse cx="169.6" cy="576.4" rx="7.1" ry="7.45" fill="#4472C4" stroke-width="3.3"/>
<ellipse cx="169.3" cy="556.6" rx="7.1" ry="7.45" fill="#4472C4" stroke-width="3.3"/>
<ellipse cx="184.0" cy="570.1" rx="7.1" ry="7.45" fill="#4472C4" stroke-width="3.3"/>
<ellipse cx="207.1" cy="567.9" rx="7.1" ry="7.45" fill="#4472C4" stroke-width="3.3"/>
<ellipse cx="199.6" cy="570.9" rx="7.1" ry="7.45" fill="#4472C4" stroke-width="3.3"/>
<ellipse cx="204.6" cy="554.8" rx="7.1" ry="7.45" fill="#4472C4" stroke-width="3.3"/>
<ellipse cx="171.5" cy="581.5" rx="7.1" ry="7.45" fill="#4472C4" stroke-width="3.3"/>
<ellipse cx="235.7" cy="560.9" rx="7.1" ry="7.45" fill="#4472C4" stroke-width="3.3"/>
<ellipse cx="168.3" cy="561.9" rx="7.1" ry="7.45" fill="#4472C4" stroke-width="3.3"/>
<ellipse cx="168.9" cy="578.7" rx="7.1" ry="7.45" fill="#4472C4" stroke-width="3.3"/>
<ellipse cx="163.8" cy="561.6" rx="7.1" ry="7.45" fill="#4472C4" stroke-width="3.3"/>
<ellipse cx="209.7" cy="560.7" rx="7.1" ry="7.45" fill="#4472C4" stroke-width="3.3"/>
<ellipse cx="201.0" cy="583.2" rx="7.1" ry="7.45" fill="#4472C4" stroke-width="3.3"/>
<ellipse cx="186.4" cy="573.5" rx="7.1" ry="7.45" fill="#4472C4" stroke-width="3.3"/>
<ellipse cx="233.3" cy="558.9" rx="7.1" ry="7.45" fill="#4472C4" stroke-width="3.3"/>
<ellipse cx="182.5" cy="579.4" rx="7.1" ry="7.45" fill="#4472C4" stroke-width="3.3"/>
<ellipse cx="164.0" cy="558.3" rx="7.1" ry="7.45" fill="#4472C4" stroke-width="3.3"/>
<ellipse cx="186.5" cy="572.3" rx="7.1" ry="7.45" fill="#4472C4" stroke-width="3.3"/>
<ellipse cx="179.7" cy="558.0" rx="7.1" ry="7.45" fill="#4472C4" stroke-width="3.3"/>
<ellipse cx="168.2" cy="566.7" rx="7.1" ry="7.45" fill="#4472C4" stroke-width="3.3"/>
<ellipse cx="163.8" cy="573.1" rx="7.1" ry="7.45" fill="#4472C4" stroke-width="3.3"/>
<ellipse cx="186.6" cy="554.8" rx="7.1" ry="7.45" fill="#4472C4" stroke-width="3.3"/>
<ellipse cx="222.0" cy="560.0" rx="7.1" ry="7.45" fill="#4472C4" stroke-width="3.3"/>
<ellipse cx="209.4" cy="556.5" rx="7.1" ry="7.45" fill="#4472C4" stroke-width="3.3"/>
<ellipse cx="199.9" cy="583.1" rx="7.1" ry="7.45" fill="#4472C4" stroke-width="3.3"/>
<ellipse cx="175.1" cy="570.3" rx="7.1" ry="7.45" fill="#4472C4" stroke-width="3.3"/>
<ellipse cx="228.3" cy="556.2" rx="7.1" ry="7.45" fill="#4472C4" stroke-width="3.3"/>
<ellipse cx="182.8" cy="581.7" rx="7.1" ry="7.45" fill="#4472C4" stroke-width="3.3"/>
<ellipse cx="195.0" cy="565.5" rx="7.1" ry="7.45" fill="#4472C4" stroke-width="3.3"/>
<ellipse cx="175.4" cy="565.4" rx="7.1" ry="7.45" fill="#4472C4" stroke-width="3.3"/>
<ellipse cx="218.9" cy="573.6" rx="7.1" ry="7.45" fill="#4472C4" stroke-width="3.3"/>
<ellipse cx="177.2" cy="571.3" rx="7.1" ry="7.45" fill="#4472C4" stroke-width="3.3"/>
<ellipse cx="189.1" cy="561.7" rx="7.1" ry="7.45" fill="#4472C4" stroke-width="3.3"/>
<ellipse cx="186.5" cy="586.9" rx="7.1" ry="7.45" fill="#4472C4" stroke-width="3.3"/>
<ellipse cx="207.0" cy="563.4" rx="7.1" ry="7.45" fill="#4472C4" stroke-width="3.3"/>
<ellipse cx="190.9" cy="564.2" rx="7.1" ry="7.45" fill="#4472C4" stroke-width="3.3"/>
<ellipse cx="201.7" cy="580.2" rx="7.1" ry="7.45" fill="#4472C4" stroke-width="3.3"/>
<ellipse cx="207.4" cy="583.3" rx="7.1" ry="7.45" fill="#4472C4" stroke-width="3.3"/>
<ellipse cx="198.2" cy="584.1" rx="7.1" ry="7.45" fill="#4472C4" stroke-width="3.3"/>
<ellipse cx="181.3" cy="588.9" rx="7.1" ry="7.45" fill="#4472C4" stroke-width="3.3"/>
<ellipse cx="223.8" cy="560.5" rx="7.1" ry="7.45" fill="#4472C4" stroke-width="3.3"/>
<ellipse cx="219.5" cy="563.9" rx="7.1" ry="7.45" fill="#4472C4" stroke-width="3.3"/>
<ellipse cx="166.9" cy="558.2" rx="7.1" ry="7.45" fill="#4472C4" stroke-width="3.3"/>
<ellipse cx="197.0" cy="587.9" rx="7.1" ry="7.45" fill="#4472C4" stroke-width="3.3"/>
<ellipse cx="179.5" cy="573.2" rx="7.1" ry="7.45" fill="#4472C4" stroke-width="3.3"/>
<ellipse cx="197.6" cy="559.6" rx="7.1" ry="7.45" fill="#4472C4" stroke-width="3.3"/>
<ellipse cx="220.5" cy="564.5" rx="7.1" ry="7.45" fill="#4472C4" stroke-width="3.3"/>
<ellipse cx="226.5" cy="555.1" rx="7.1" ry="7.45" fill="#4472C4" stroke-width="3.3"/>
<ellipse cx="198.7" cy="565.0" rx="7.1" ry="7.45" fill="#4472C4" stroke-width="3.3"/>
<ellipse cx="217.0" cy="564.8" rx="7.1" ry="7.45" fill="#4472C4" stroke-width="3.3"/>
<ellipse cx="220.9" cy="555.1" rx="7.1" ry="7.45" fill="#4472C4" stroke-width="3.3"/>
<ellipse cx="193.9" cy="583.2" rx="7.1" ry="7.45" fill="#4472C4" stroke-width="3.3"/>
<ellipse cx="224.6" cy="564.8" rx="7.1" ry="7.45" fill="#4472C4" stroke-width="3.3"/>
<ellipse cx="166.3" cy="576.6" rx="7.1" ry="7.45" fill="#4472C4" stroke-width="3.3"/>
<ellipse cx="196.2" cy="585.0" rx="7.1" ry="7.45" fill="#4472C4" stroke-width="3.3"/>
<ellipse cx="171.6" cy="583.6" rx="7.1" ry="7.45" fill="#4472C4" stroke-width="3.3"/>
<ellipse cx="233.8" cy="560.9" rx="7.1" ry="7.45" fill="#4472C4" stroke-width="3.3"/>
<ellipse cx="181.1" cy="575.8" rx="7.1" ry="7.45" fill="#4472C4" stroke-width="3.3"/>
<ellipse cx="183.7" cy="571.1" rx="7.1" ry="7.45" fill="#4472C4" stroke-width="3.3"/>
<ellipse cx="205.9" cy="567.7" rx="7.1" ry="7.45" fill="#4472C4" stroke-width="3.3"/>
<ellipse cx="169.3" cy="563.7" rx="7.1" ry="7.45" fill="#4472C4" stroke-width="3.3"/>
<ellipse cx="167.3" cy="578.6" rx="7.1" ry="7.45" fill="#4472C4" stroke-width="3.3"/>
<ellipse cx="200.2" cy="568.0" rx="7.1" ry="7.45" fill="#4472C4" stroke-width="3.3"/>
<ellipse cx="210.5" cy="577.5" rx="7.1" ry="7.45" fill="#4472C4" stroke-width="3.3"/>
<ellipse cx="187.4" cy="585.9" rx="7.1" ry="7.45" fill="#4472C4" stroke-width="3.3"/>
<ellipse cx="219.7" cy="564.6" rx="7.1" ry="7.45" fill="#4472C4" stroke-width="3.3"/>
<ellipse cx="208.6" cy="555.7" rx="7.1" ry="7.45" fill="#4472C4" stroke-width="3.3"/>
<ellipse cx="171.7" cy="554.8" rx="7.1" ry="7.45" fill="#4472C4" stroke-width="3.3"/>
<ellipse cx="234.0" cy="558.4" rx="7.1" ry="7.45" fill="#4472C4" stroke-width="3.3"/>
<ellipse cx="191.6" cy="565.4" rx="7.1" ry="7.45" fill="#4472C4" stroke-width="3.3"/>
<ellipse cx="220.6" cy="556.1" rx="7.1" ry="7.45" fill="#4472C4" stroke-width="3.3"/>
<ellipse cx="209.1" cy="566.3" rx="7.1" ry="7.45" fill="#4472C4" stroke-width="3.3"/>
<ellipse cx="165.0" cy="563.8" rx="7.1" ry="7.45" fill="#4472C4" stroke-width="3.3"/>
<ellipse cx="181.9" cy="579.9" rx="7.1" ry="7.45" fill="#4472C4" stroke-width="3.3"/>
<ellipse cx="734.0" cy="89.7" rx="7.1" ry="7.45" fill="#4472C4"/>
<ellipse cx="676.4" cy="154.9" rx="7.1" ry="7.45" fill="#4472C4"/>
<ellipse cx="649.5" cy="239.5" rx="7.1" ry="7.45" fill="#4472C4"/>
<ellipse cx="703.7" cy="253.4" rx="7.1" ry="7.45" fill="#4472C4"/>
<ellipse cx="631.5" cy="311.3" rx="7.1" ry="7.45" fill="#4472C4"/>
<ellipse cx="598.5" cy="339.3" rx="7.1" ry="7.45" fill="#4472C4"/>
<ellipse cx="544.7" cy="331.5" rx="7.1" ry="7.45" fill="#4472C4"/>
<ellipse cx="499.8" cy="286.1" rx="7.1" ry="7.45" fill="#4472C4"/>
<ellipse cx="536.1" cy="359.2" rx="7.1" ry="7.45" fill="#4472C4"/>
<ellipse cx="500.4" cy="346.4" rx="7.1" ry="7.45" fill="#4472C4"/>
<ellipse cx="516.4" cy="348.1" rx="7.1" ry="7.45" fill="#4472C4"/>
<ellipse cx="526.9" cy="357.5" rx="7.1" ry="7.45" fill="#4472C4"/>
<ellipse cx="480.7" cy="315.7" rx="7.1" ry="7.45" fill="#4472C4"/>
<ellipse cx="476.3" cy="329.9" rx="7.1" ry="7.45" fill="#4472C4"/>
<ellipse cx="408.4" cy="369.6" rx="7.1" ry="7.45" fill="#4472C4"/>
<ellipse cx="451.1" cy="380.9" rx="7.1" ry="7.45" fill="#4472C4"/>
<ellipse cx="443.4" cy="376.0" rx="7.1" ry="7.45" fill="#4472C4"/>
<ellipse cx="363.6" cy="390.3" rx="7.1" ry="7.45" fill="#4472C4"/>
<ellipse cx="400.7" cy="392.4" rx="7.1" ry="7.45" fill="#4472C4"/>
<ellipse cx="379.0" cy="401.8" rx="7.1" ry="7.45" fill="#4472C4"/>
<ellipse cx="295.4" cy="400.5" rx="7.1" ry="7.45" fill="#4472C4"/>
<ellipse cx="453.2" cy="396.6" rx="7.1" ry="7.45" fill="#4472C4"/>
<ellipse cx="428.0" cy="402.2" rx="7.1" ry="7.45" fill="#4472C4"/>
<ellipse cx="446.9" cy="400.4" rx="7.1" ry="7.45" fill="#4472C4"/>
<ellipse cx="486.1" cy="401.5" rx="7.1" ry="7.45" fill="#4472C4"/>
<ellipse cx="472.8" cy="400.4" rx="7.1" ry="7.45" fill="#4472C4"/>
<ellipse cx="461.6" cy="412.7" rx="7.1" ry="7.45" fill="#4472C4"/>
<ellipse cx="432.9" cy="414.1" rx="7.1" ry="7.45" fill="#4472C4"/>
<ellipse cx="408.4" cy="417.6" rx="7.1" ry="7.45" fill="#4472C4"/>
<ellipse cx="336.3" cy="420.7" rx="7.1" ry="7.45" fill="#4472C4"/>
<ellipse cx="377.6" cy="421.1" rx="7.1" ry="7.45" fill="#4472C4"/>
<ellipse cx="366.4" cy="422.5" rx="7.1" ry="7.45" fill="#4472C4"/>
<ellipse cx="375.5" cy="428.1" rx="7.1" ry="7.45" fill="#4472C4"/>
<ellipse cx="437.8" cy="423.2" rx="7.1" ry="7.45" fill="#4472C4"/>
<ellipse cx="426.6" cy="423.2" rx="7.1" ry="7.45" fill="#4472C4"/>
<ellipse cx="418.2" cy="421.1" rx="7.1" ry="7.45" fill="#4472C4"/>
<ellipse cx="407.0" cy="421.1" rx="7.1" ry="7.45" fill="#4472C4"/>
<ellipse cx="395.8" cy="422.1" rx="7.1" ry="7.45" fill="#4472C4"/>
<ellipse cx="451.1" cy="421.1" rx="7.1" ry="7.45" fill="#4472C4"/>
<ellipse cx="403.5" cy="433.7" rx="7.1" ry="7.45" fill="#4472C4"/>
<ellipse cx="385.6" cy="447.0" rx="7.1" ry="7.45" fill="#4472C4"/>
<ellipse cx="424.8" cy="453.3" rx="7.1" ry="7.45" fill="#4472C4"/>
<ellipse cx="406.6" cy="451.2" rx="7.1" ry="7.45" fill="#4472C4"/>
<ellipse cx="435.3" cy="451.9" rx="7.1" ry="7.45" fill="#4472C4"/>
<ellipse cx="452.5" cy="451.2" rx="7.1" ry="7.45" fill="#4472C4"/>
<ellipse cx="392.6" cy="515.3" rx="7.1" ry="7.45" fill="#4472C4"/>
<ellipse cx="425.9" cy="515.3" rx="7.1" ry="7.45" fill="#4472C4"/>
<ellipse cx="411.9" cy="516.7" rx="7.1" ry="7.45" fill="#4472C4"/>
<ellipse cx="449.3" cy="515.3" rx="7.1" ry="7.45" fill="#4472C4"/>
<ellipse cx="523.7" cy="377.8" rx="7.1" ry="7.45" fill="#4472C4"/>
<ellipse cx="162.8" cy="461.0" rx="7.1" ry="7.45" fill="#4472C4"/>
<ellipse cx="177.5" cy="501.0" rx="7.1" ry="7.45" fill="#4472C4"/>
<ellipse cx="275.8" cy="449.1" rx="7.1" ry="7.45" fill="#4472C4"/>
<ellipse cx="292.6" cy="451.2" rx="7.1" ry="7.45" fill="#4472C4"/>
<ellipse cx="271.6" cy="457.5" rx="7.1" ry="7.45" fill="#4472C4"/>
<ellipse cx="303.8" cy="441.4" rx="7.1" ry="7.45" fill="#4472C4"/>
<ellipse cx="310.1" cy="457.5" rx="7.1" ry="7.45" fill="#4472C4"/>
<ellipse cx="334.6" cy="448.4" rx="7.1" ry="7.45" fill="#4472C4"/>
<ellipse cx="333.2" cy="456.8" rx="7.1" ry="7.45" fill="#4472C4"/>
<ellipse cx="323.7" cy="451.2" rx="7.1" ry="7.45" fill="#4472C4"/>
<ellipse cx="343.0" cy="444.2" rx="7.1" ry="7.45" fill="#4472C4"/>
<ellipse cx="369.6" cy="441.4" rx="7.1" ry="7.45" fill="#4472C4"/>
<ellipse cx="364.0" cy="451.2" rx="7.1" ry="7.45" fill="#4472C4"/>
<ellipse cx="309.4" cy="474.3" rx="7.1" ry="7.45" fill="#4472C4"/>
<ellipse cx="305.2" cy="472.9" rx="7.1" ry="7.45" fill="#4472C4"/>
<ellipse cx="280.7" cy="475.7" rx="7.1" ry="7.45" fill="#4472C4"/>
<ellipse cx="252.0" cy="475.0" rx="7.1" ry="7.45" fill="#4472C4"/>
<ellipse cx="260.4" cy="477.1" rx="7.1" ry="7.45" fill="#4472C4"/>
<ellipse cx="277.9" cy="493.2" rx="7.1" ry="7.45" fill="#4472C4"/>
<ellipse cx="243.6" cy="492.5" rx="7.1" ry="7.45" fill="#4472C4"/>
<ellipse cx="229.6" cy="500.2" rx="7.1" ry="7.45" fill="#4472C4"/>
<ellipse cx="221.2" cy="501.6" rx="7.1" ry="7.45" fill="#4472C4"/>
<ellipse cx="238.0" cy="505.8" rx="7.1" ry="7.45" fill="#4472C4"/>
<ellipse cx="320.6" cy="486.2" rx="7.1" ry="7.45" fill="#4472C4"/>
<ellipse cx="329.0" cy="489.0" rx="7.1" ry="7.45" fill="#4472C4"/>
<ellipse cx="371.0" cy="472.2" rx="7.1" ry="7.45" fill="#4472C4"/>
<ellipse cx="361.2" cy="470.1" rx="7.1" ry="7.45" fill="#4472C4"/>
<ellipse cx="358.4" cy="489.0" rx="7.1" ry="7.45" fill="#4472C4"/>
<ellipse cx="336.0" cy="508.6" rx="7.1" ry="7.45" fill="#4472C4"/>
<ellipse cx="326.9" cy="519.1" rx="7.1" ry="7.45" fill="#4472C4"/>
<ellipse cx="366.1" cy="514.9" rx="7.1" ry="7.45" fill="#4472C4"/>
<ellipse cx="211.4" cy="515.6" rx="7.1" ry="7.45" fill="#4472C4"/>
<ellipse cx="288.4" cy="538.0" rx="7.1" ry="7.45" fill="#4472C4"/>
<ellipse cx="284.9" cy="533.1" rx="7.1" ry="7.45" fill="#4472C4"/>
<ellipse cx="303.8" cy="526.8" rx="7.1" ry="7.45" fill="#4472C4"/>
<ellipse cx="271.6" cy="546.4" rx="7.1" ry="7.45" fill="#4472C4"/>
<ellipse cx="166.6" cy="538.0" rx="7.1" ry="7.45" fill="#4472C4"/>
<ellipse cx="161.0" cy="544.3" rx="7.1" ry="7.45" fill="#4472C4"/>
<ellipse cx="176.4" cy="536.6" rx="7.1" ry="7.45" fill="#4472C4"/>
<ellipse cx="196.0" cy="529.6" rx="7.1" ry="7.45" fill="#4472C4"/>
<ellipse cx="159.6" cy="554.8" rx="7.1" ry="7.45" fill="#4472C4"/>
<ellipse cx="166.6" cy="563.2" rx="7.1" ry="7.45" fill="#4472C4"/>
<ellipse cx="175.0" cy="559.0" rx="7.1" ry="7.45" fill="#4472C4"/>
<ellipse cx="226.8" cy="553.4" rx="7.1" ry="7.45" fill="#4472C4"/>
<ellipse cx="238.0" cy="556.2" rx="7.1" ry="7.45" fill="#4472C4"/>
<ellipse cx="243.6" cy="559.0" rx="7.1" ry="7.45" fill="#4472C4"/>
<ellipse cx="163.8" cy="571.6" rx="7.1" ry="7.45" fill="#4472C4"/>
<ellipse cx="168.0" cy="577.2" rx="7.1" ry="7.45" fill="#4472C4"/>
<ellipse cx="203.0" cy="570.2" rx="7.1" ry="7.45" fill="#4472C4"/>
<ellipse cx="211.4" cy="568.8" rx="7.1" ry="7.45" fill="#4472C4"/>
<ellipse cx="205.8" cy="578.6" rx="7.1" ry="7.45" fill="#4472C4"/>
<ellipse cx="210.0" cy="580.0" rx="7.1" ry="7.45" fill="#4472C4"/>
<ellipse cx="193.2" cy="584.2" rx="7.1" ry="7.45" fill="#4472C4"/>
<ellipse cx="175.0" cy="589.1" rx="7.1" ry="7.45" fill="#4472C4"/>
<ellipse cx="183.4" cy="595.4" rx="7.1" ry="7.45" fill="#4472C4"/>
<ellipse cx="175.0" cy="601.7" rx="7.1" ry="7.45" fill="#4472C4"/>
<ellipse cx="164.1" cy="603.1" rx="7.1" ry="7.45" fill="#4472C4"/>
<ellipse cx="211.4" cy="602.4" rx="7.1" ry="7.45" fill="#4472C4"/>
<ellipse cx="174.7" cy="618.9" rx="7.1" ry="7.45" fill="#4472C4"/>
<ellipse cx="187.6" cy="633.2" rx="7.1" ry="7.45" fill="#4472C4"/>
<ellipse cx="180.6" cy="643.0" rx="7.1" ry="7.45" fill="#4472C4"/>
<ellipse cx="177.5" cy="654.2" rx="7.1" ry="7.45" fill="#4472C4"/>
<ellipse cx="168.7" cy="664.0" rx="7.1" ry="7.45" fill="#4472C4"/>
</g><g>
<ellipse cx="805.2" cy="52.6" rx="7.1" ry="7.45" fill="#ED7D31"/>
<ellipse cx="638.6" cy="244.3" rx="7.1" ry="7.45" fill="#ED7D31"/>
<ellipse cx="690.7" cy="238.2" rx="7.1" ry="7.45" fill="#ED7D31"/>
<ellipse cx="713.4" cy="258.2" rx="7.1" ry="7.45" fill="#ED7D31"/>
<ellipse cx="630.2" cy="267.6" rx="7.1" ry="7.45" fill="#ED7D31"/>
<ellipse cx="620.8" cy="267.6" rx="7.1" ry="7.45" fill="#ED7D31"/>
<ellipse cx="650.6" cy="278.6" rx="7.1" ry="7.45" fill="#ED7D31"/>
<ellipse cx="594.9" cy="284.9" rx="7.1" ry="7.45" fill="#ED7D31"/>
<ellipse cx="587.8" cy="284.9" rx="7.1" ry="7.45" fill="#ED7D31"/>
<ellipse cx="698.5" cy="297.2" rx="7.1" ry="7.45" fill="#ED7D31"/>
<ellipse cx="691.6" cy="320.6" rx="7.1" ry="7.45" fill="#ED7D31"/>
<ellipse cx="684.8" cy="322.2" rx="7.1" ry="7.45" fill="#ED7D31"/>
<ellipse cx="661.1" cy="331.5" rx="7.1" ry="7.45" fill="#ED7D31"/>
<ellipse cx="535.7" cy="320.8" rx="7.1" ry="7.45" fill="#ED7D31"/>
<ellipse cx="507.4" cy="360.7" rx="7.1" ry="7.45" fill="#ED7D31"/>
<ellipse cx="434.3" cy="287.9" rx="7.1" ry="7.45" fill="#ED7D31"/>
<ellipse cx="453.6" cy="305.2" rx="7.1" ry="7.45" fill="#ED7D31"/>
<ellipse cx="428.4" cy="326.8" rx="7.1" ry="7.45" fill="#ED7D31"/>
<ellipse cx="464.1" cy="337.5" rx="7.1" ry="7.45" fill="#ED7D31"/>
<ellipse cx="492.4" cy="332.9" rx="7.1" ry="7.45" fill="#ED7D31"/>
<ellipse cx="336.0" cy="366.8" rx="7.1" ry="7.45" fill="#ED7D31"/>
<ellipse cx="398.6" cy="369.6" rx="7.1" ry="7.45" fill="#ED7D31"/>
<ellipse cx="378.3" cy="381.9" rx="7.1" ry="7.45" fill="#ED7D31"/>
<ellipse cx="371.7" cy="384.0" rx="7.1" ry="7.45" fill="#ED7D31"/>
<ellipse cx="392.3" cy="382.3" rx="7.1" ry="7.45" fill="#ED7D31"/>
<ellipse cx="407.7" cy="386.8" rx="7.1" ry="7.45" fill="#ED7D31"/>
<ellipse cx="418.2" cy="396.2" rx="7.1" ry="7.45" fill="#ED7D31"/>
<ellipse cx="430.1" cy="396.2" rx="7.1" ry="7.45" fill="#ED7D31"/>
<ellipse cx="388.1" cy="405.4" rx="7.1" ry="7.45" fill="#ED7D31"/>
<ellipse cx="362.9" cy="411.6" rx="7.1" ry="7.45" fill="#ED7D31"/>
<ellipse cx="294.0" cy="414.8" rx="7.1" ry="7.45" fill="#ED7D31"/>
<ellipse cx="313.2" cy="430.2" rx="7.1" ry="7.45" fill="#ED7D31"/>
<ellipse cx="485.4" cy="372.1" rx="7.1" ry="7.45" fill="#ED7D31"/>
<ellipse cx="477.7" cy="371.7" rx="7.1" ry="7.45" fill="#ED7D31"/>
<ellipse cx="495.2" cy="372.8" rx="7.1" ry="7.45" fill="#ED7D31"/>
<ellipse cx="494.5" cy="394.8" rx="7.1" ry="7.45" fill="#ED7D31"/>
<ellipse cx="479.1" cy="422.1" rx="7.1" ry="7.45" fill="#ED7D31"/>
<ellipse cx="457.4" cy="432.3" rx="7.1" ry="7.45" fill="#ED7D31"/>
<ellipse cx="449.7" cy="433.0" rx="7.1" ry="7.45" fill="#ED7D31"/>
<ellipse cx="479.1" cy="435.8" rx="7.1" ry="7.45" fill="#ED7D31"/>
<ellipse cx="422.0" cy="440.7" rx="7.1" ry="7.45" fill="#ED7D31"/>
<ellipse cx="415.0" cy="456.5" rx="7.1" ry="7.45" fill="#ED7D31"/>
<ellipse cx="389.5" cy="463.1" rx="7.1" ry="7.45" fill="#ED7D31"/>
<ellipse cx="453.8" cy="463.1" rx="7.1" ry="7.45" fill="#ED7D31"/>
<ellipse cx="499.7" cy="451.9" rx="7.1" ry="7.45" fill="#ED7D31"/>
<ellipse cx="412.9" cy="476.7" rx="7.1" ry="7.45" fill="#ED7D31"/>
<ellipse cx="401.7" cy="472.2" rx="7.1" ry="7.45" fill="#ED7D31"/>
<ellipse cx="386.3" cy="484.4" rx="7.1" ry="7.45" fill="#ED7D31"/>
<ellipse cx="403.1" cy="487.9" rx="7.1" ry="7.45" fill="#ED7D31"/>
<ellipse cx="708.6" cy="371.5" rx="7.1" ry="7.45" fill="#ED7D31"/>
<ellipse cx="547.7" cy="379.3" rx="7.1" ry="7.45" fill="#ED7D31"/>
<ellipse cx="526.5" cy="393.6" rx="7.1" ry="7.45" fill="#ED7D31"/>
<ellipse cx="574.1" cy="408.7" rx="7.1" ry="7.45" fill="#ED7D31"/>
<ellipse cx="632.7" cy="481.1" rx="7.1" ry="7.45" fill="#ED7D31"/>
<ellipse cx="284.9" cy="454.7" rx="7.1" ry="7.45" fill="#ED7D31"/>
<ellipse cx="350.7" cy="450.5" rx="7.1" ry="7.45" fill="#ED7D31"/>
<ellipse cx="378.0" cy="453.3" rx="7.1" ry="7.45" fill="#ED7D31"/>
<ellipse cx="373.1" cy="464.5" rx="7.1" ry="7.45" fill="#ED7D31"/>
<ellipse cx="238.7" cy="468.0" rx="7.1" ry="7.45" fill="#ED7D31"/>
<ellipse cx="267.4" cy="466.6" rx="7.1" ry="7.45" fill="#ED7D31"/>
<ellipse cx="265.3" cy="476.1" rx="7.1" ry="7.45" fill="#ED7D31"/>
<ellipse cx="294.0" cy="476.1" rx="7.1" ry="7.45" fill="#ED7D31"/>
<ellipse cx="246.4" cy="479.2" rx="7.1" ry="7.45" fill="#ED7D31"/>
<ellipse cx="231.7" cy="484.1" rx="7.1" ry="7.45" fill="#ED7D31"/>
<ellipse cx="219.8" cy="484.1" rx="7.1" ry="7.45" fill="#ED7D31"/>
<ellipse cx="207.9" cy="486.9" rx="7.1" ry="7.45" fill="#ED7D31"/>
<ellipse cx="301.0" cy="487.6" rx="7.1" ry="7.45" fill="#ED7D31"/>
<ellipse cx="294.0" cy="490.4" rx="7.1" ry="7.45" fill="#ED7D31"/>
<ellipse cx="266.7" cy="494.9" rx="7.1" ry="7.45" fill="#ED7D31"/>
<ellipse cx="345.1" cy="478.5" rx="7.1" ry="7.45" fill="#ED7D31"/>
<ellipse cx="356.3" cy="479.9" rx="7.1" ry="7.45" fill="#ED7D31"/>
<ellipse cx="367.5" cy="484.8" rx="7.1" ry="7.45" fill="#ED7D31"/>
<ellipse cx="340.9" cy="487.6" rx="7.1" ry="7.45" fill="#ED7D31"/>
<ellipse cx="376.6" cy="491.1" rx="7.1" ry="7.45" fill="#ED7D31"/>
<ellipse cx="351.4" cy="494.6" rx="7.1" ry="7.45" fill="#ED7D31"/>
<ellipse cx="346.5" cy="499.5" rx="7.1" ry="7.45" fill="#ED7D31"/>
<ellipse cx="324.1" cy="507.2" rx="7.1" ry="7.45" fill="#ED7D31"/>
<ellipse cx="355.6" cy="513.5" rx="7.1" ry="7.45" fill="#ED7D31"/>
<ellipse cx="287.7" cy="516.3" rx="7.1" ry="7.45" fill="#ED7D31"/>
<ellipse cx="204.4" cy="508.6" rx="7.1" ry="7.45" fill="#ED7D31"/>
<ellipse cx="193.9" cy="518.4" rx="7.1" ry="7.45" fill="#ED7D31"/>
<ellipse cx="176.4" cy="526.1" rx="7.1" ry="7.45" fill="#ED7D31"/>
<ellipse cx="246.4" cy="521.2" rx="7.1" ry="7.45" fill="#ED7D31"/>
<ellipse cx="235.9" cy="526.1" rx="7.1" ry="7.45" fill="#ED7D31"/>
<ellipse cx="245.7" cy="529.6" rx="7.1" ry="7.45" fill="#ED7D31"/>
<ellipse cx="271.6" cy="525.4" rx="7.1" ry="7.45" fill="#ED7D31"/>
<ellipse cx="267.4" cy="530.3" rx="7.1" ry="7.45" fill="#ED7D31"/>
<ellipse cx="257.6" cy="535.2" rx="7.1" ry="7.45" fill="#ED7D31"/>
<ellipse cx="196.0" cy="543.6" rx="7.1" ry="7.45" fill="#ED7D31"/>
<ellipse cx="186.2" cy="542.2" rx="7.1" ry="7.45" fill="#ED7D31"/>
<ellipse cx="209.3" cy="542.2" rx="7.1" ry="7.45" fill="#ED7D31"/>
<ellipse cx="250.6" cy="545.0" rx="7.1" ry="7.45" fill="#ED7D31"/>
<ellipse cx="238.7" cy="544.3" rx="7.1" ry="7.45" fill="#ED7D31"/>
<ellipse cx="261.8" cy="544.3" rx="7.1" ry="7.45" fill="#ED7D31"/>
<ellipse cx="210.0" cy="557.6" rx="7.1" ry="7.45" fill="#ED7D31"/>
<ellipse cx="198.8" cy="558.3" rx="7.1" ry="7.45" fill="#ED7D31"/>
<ellipse cx="220.5" cy="557.6" rx="7.1" ry="7.45" fill="#ED7D31"/>
<ellipse cx="187.6" cy="563.9" rx="7.1" ry="7.45" fill="#ED7D31"/>
<ellipse cx="184.8" cy="569.5" rx="7.1" ry="7.45" fill="#ED7D31"/>
<ellipse cx="228.2" cy="568.1" rx="7.1" ry="7.45" fill="#ED7D31"/>
<ellipse cx="250.6" cy="566.7" rx="7.1" ry="7.45" fill="#ED7D31"/>
<ellipse cx="241.5" cy="568.1" rx="7.1" ry="7.45" fill="#ED7D31"/>
<ellipse cx="174.7" cy="580.7" rx="7.1" ry="7.45" fill="#ED7D31"/>
<ellipse cx="250.6" cy="583.5" rx="7.1" ry="7.45" fill="#ED7D31"/>
<ellipse cx="301.7" cy="569.1" rx="7.1" ry="7.45" fill="#ED7D31"/>
<ellipse cx="294.0" cy="582.1" rx="7.1" ry="7.45" fill="#ED7D31"/>
<ellipse cx="206.5" cy="599.6" rx="7.1" ry="7.45" fill="#ED7D31"/>
<ellipse cx="197.1" cy="598.9" rx="7.1" ry="7.45" fill="#ED7D31"/>
<ellipse cx="225.4" cy="606.3" rx="7.1" ry="7.45" fill="#ED7D31"/>
<ellipse cx="211.4" cy="609.4" rx="7.1" ry="7.45" fill="#ED7D31"/>
<ellipse cx="203.0" cy="614.3" rx="7.1" ry="7.45" fill="#ED7D31"/>
<ellipse cx="195.7" cy="628.3" rx="7.1" ry="7.45" fill="#ED7D31"/>
<ellipse cx="161.0" cy="652.8" rx="7.1" ry="7.45" fill="#ED7D31"/>
<ellipse cx="210.4" cy="664.0" rx="7.1" ry="7.45" fill="#ED7D31"/>
</g>
<text transform="translate(125.6,754.6) scale(1.0,1.06)" text-anchor="middle" font-size="37.4" xml:space="preserve">0</text>
<text transform="translate(93,711.8) scale(1.0,1.06)" text-anchor="end" font-size="37.4" xml:space="preserve">0</text>
<text transform="translate(268.7,754.6) scale(1.0,1.06)" text-anchor="middle" font-size="37.4" xml:space="preserve">0.2</text>
<text transform="translate(93,575.6) scale(1.0,1.06)" text-anchor="end" font-size="37.4" xml:space="preserve">0.2</text>
<text transform="translate(411.8,754.6) scale(1.0,1.06)" text-anchor="middle" font-size="37.4" xml:space="preserve">0.4</text>
<text transform="translate(93,439.4) scale(1.0,1.06)" text-anchor="end" font-size="37.4" xml:space="preserve">0.4</text>
<text transform="translate(555.0,754.6) scale(1.0,1.06)" text-anchor="middle" font-size="37.4" xml:space="preserve">0.6</text>
<text transform="translate(93,303.3) scale(1.0,1.06)" text-anchor="end" font-size="37.4" xml:space="preserve">0.6</text>
<text transform="translate(698.1,754.6) scale(1.0,1.06)" text-anchor="middle" font-size="37.4" xml:space="preserve">0.8</text>
<text transform="translate(93,167.1) scale(1.0,1.06)" text-anchor="end" font-size="37.4" xml:space="preserve">0.8</text>
<text transform="translate(841.2,754.6) scale(1.0,1.06)" text-anchor="middle" font-size="37.4" xml:space="preserve">1</text>
<text transform="translate(93,30.9) scale(1.0,1.06)" text-anchor="end" font-size="37.4" xml:space="preserve">1</text>
<text transform="translate(468.6,798.7) scale(1.0,1.06)" text-anchor="middle" font-size="37.4" xml:space="preserve">Normalized observed SDR</text>
<text transform="translate(28.6,358.4) rotate(-90) scale(1.016,1.0)" text-anchor="middle" font-size="37.4" xml:space="preserve">Normalized Predicted SDR</text>
<ellipse cx="192.3" cy="54.4" rx="7.25" ry="7.95" fill="#4472C4" style="stroke-width:2.85"/>
<text transform="translate(230,67) scale(1.0,1.06)" text-anchor="start" font-size="37.4" xml:space="preserve">GEP-Model-1 (Training)</text>
<ellipse cx="192.6" cy="104.2" rx="7.25" ry="7.95" fill="#ED7D31" style="stroke-width:2.85"/>
<text transform="translate(230,116.5) scale(1.0,1.06)" text-anchor="start" font-size="37.4" xml:space="preserve">GEP-Model-1 (Testing)</text>
<line x1="164.4" y1="155.6" x2="221.8" y2="155.6" stroke="#000" stroke-width="4.4" stroke-linecap="round"/>
<text transform="translate(229,167.5) scale(1.0,1.06)" text-anchor="start" font-size="37.4" xml:space="preserve">Best fit line</text>
<text transform="translate(777.9,680.5) scale(1.03,1.06)" text-anchor="start" font-size="43" xml:space="preserve">(a)</text>
</g>
<g id="plot-b">
<rect x="1001.4" y="15.1" width="709.0" height="687.2" fill="none" stroke="#000" stroke-width="3.0"/>
<line x1="1001.4" y1="702.3" x2="1001.4" y2="712.8" stroke="#000" stroke-width="3.0"/>
<line x1="991.4" y1="702.3" x2="1001.4" y2="702.3" stroke="#000" stroke-width="3.0"/>
<line x1="1143.2" y1="702.3" x2="1143.2" y2="712.8" stroke="#000" stroke-width="3.0"/>
<line x1="991.4" y1="564.9" x2="1001.4" y2="564.9" stroke="#000" stroke-width="3.0"/>
<line x1="1285.0" y1="702.3" x2="1285.0" y2="712.8" stroke="#000" stroke-width="3.0"/>
<line x1="991.4" y1="427.4" x2="1001.4" y2="427.4" stroke="#000" stroke-width="3.0"/>
<line x1="1426.8" y1="702.3" x2="1426.8" y2="712.8" stroke="#000" stroke-width="3.0"/>
<line x1="991.4" y1="290.0" x2="1001.4" y2="290.0" stroke="#000" stroke-width="3.0"/>
<line x1="1568.6" y1="702.3" x2="1568.6" y2="712.8" stroke="#000" stroke-width="3.0"/>
<line x1="991.4" y1="152.5" x2="1001.4" y2="152.5" stroke="#000" stroke-width="3.0"/>
<line x1="1710.4" y1="702.3" x2="1710.4" y2="712.8" stroke="#000" stroke-width="3.0"/>
<line x1="991.4" y1="15.1" x2="1001.4" y2="15.1" stroke="#000" stroke-width="3.0"/>
<g>
<ellipse cx="1201.7" cy="602.2" rx="7.1" ry="7.45" fill="#4472C4" stroke-width="3.3"/>
<ellipse cx="1111.5" cy="592.6" rx="7.1" ry="7.45" fill="#4472C4" stroke-width="3.3"/>
<ellipse cx="1150.6" cy="589.7" rx="7.1" ry="7.45" fill="#4472C4" stroke-width="3.3"/>
<ellipse cx="1063.3" cy="614.4" rx="7.1" ry="7.45" fill="#4472C4" stroke-width="3.3"/>
<ellipse cx="1149.8" cy="590.9" rx="7.1" ry="7.45" fill="#4472C4" stroke-width="3.3"/>
<ellipse cx="1148.0" cy="607.3" rx="7.1" ry="7.45" fill="#4472C4" stroke-width="3.3"/>
<ellipse cx="1232.0" cy="612.6" rx="7.1" ry="7.45" fill="#4472C4" stroke-width="3.3"/>
<ellipse cx="1138.3" cy="588.5" rx="7.1" ry="7.45" fill="#4472C4" stroke-width="3.3"/>
<ellipse cx="1180.8" cy="592.3" rx="7.1" ry="7.45" fill="#4472C4" stroke-width="3.3"/>
<ellipse cx="1152.9" cy="642.1" rx="7.1" ry="7.45" fill="#4472C4" stroke-width="3.3"/>
<ellipse cx="1084.7" cy="622.7" rx="7.1" ry="7.45" fill="#4472C4" stroke-width="3.3"/>
<ellipse cx="1198.2" cy="596.2" rx="7.1" ry="7.45" fill="#4472C4" stroke-width="3.3"/>
<ellipse cx="1211.2" cy="594.7" rx="7.1" ry="7.45" fill="#4472C4" stroke-width="3.3"/>
<ellipse cx="1197.1" cy="625.6" rx="7.1" ry="7.45" fill="#4472C4" stroke-width="3.3"/>
<ellipse cx="1075.5" cy="628.6" rx="7.1" ry="7.45" fill="#4472C4" stroke-width="3.3"/>
<ellipse cx="1145.3" cy="589.3" rx="7.1" ry="7.45" fill="#4472C4" stroke-width="3.3"/>
<ellipse cx="1179.3" cy="582.2" rx="7.1" ry="7.45" fill="#4472C4" stroke-width="3.3"/>
<ellipse cx="1111.4" cy="636.8" rx="7.1" ry="7.45" fill="#4472C4" stroke-width="3.3"/>
<ellipse cx="1189.1" cy="618.8" rx="7.1" ry="7.45" fill="#4472C4" stroke-width="3.3"/>
<ellipse cx="1051.0" cy="632.1" rx="7.1" ry="7.45" fill="#4472C4" stroke-width="3.3"/>
<ellipse cx="1103.1" cy="630.6" rx="7.1" ry="7.45" fill="#4472C4" stroke-width="3.3"/>
<ellipse cx="1078.6" cy="645.1" rx="7.1" ry="7.45" fill="#4472C4" stroke-width="3.3"/>
<ellipse cx="1176.7" cy="625.7" rx="7.1" ry="7.45" fill="#4472C4" stroke-width="3.3"/>
<ellipse cx="1071.1" cy="601.3" rx="7.1" ry="7.45" fill="#4472C4" stroke-width="3.3"/>
<ellipse cx="1144.9" cy="622.3" rx="7.1" ry="7.45" fill="#4472C4" stroke-width="3.3"/>
<ellipse cx="1136.8" cy="591.8" rx="7.1" ry="7.45" fill="#4472C4" stroke-width="3.3"/>
<ellipse cx="1158.8" cy="647.8" rx="7.1" ry="7.45" fill="#4472C4" stroke-width="3.3"/>
<ellipse cx="1057.7" cy="621.0" rx="7.1" ry="7.45" fill="#4472C4" stroke-width="3.3"/>
<ellipse cx="1119.0" cy="647.0" rx="7.1" ry="7.45" fill="#4472C4" stroke-width="3.3"/>
<ellipse cx="1227.3" cy="613.0" rx="7.1" ry="7.45" fill="#4472C4" stroke-width="3.3"/>
<ellipse cx="1086.8" cy="655.0" rx="7.1" ry="7.45" fill="#4472C4" stroke-width="3.3"/>
<ellipse cx="1116.8" cy="591.2" rx="7.1" ry="7.45" fill="#4472C4" stroke-width="3.3"/>
<ellipse cx="1173.1" cy="622.2" rx="7.1" ry="7.45" fill="#4472C4" stroke-width="3.3"/>
<ellipse cx="1088.0" cy="612.7" rx="7.1" ry="7.45" fill="#4472C4" stroke-width="3.3"/>
<ellipse cx="1175.4" cy="604.6" rx="7.1" ry="7.45" fill="#4472C4" stroke-width="3.3"/>
<ellipse cx="1052.2" cy="617.0" rx="7.1" ry="7.45" fill="#4472C4" stroke-width="3.3"/>
<ellipse cx="1077.3" cy="631.6" rx="7.1" ry="7.45" fill="#4472C4" stroke-width="3.3"/>
<ellipse cx="1078.7" cy="587.3" rx="7.1" ry="7.45" fill="#4472C4" stroke-width="3.3"/>
<ellipse cx="1215.3" cy="605.1" rx="7.1" ry="7.45" fill="#4472C4" stroke-width="3.3"/>
<ellipse cx="1096.5" cy="624.0" rx="7.1" ry="7.45" fill="#4472C4" stroke-width="3.3"/>
<ellipse cx="1175.7" cy="636.1" rx="7.1" ry="7.45" fill="#4472C4" stroke-width="3.3"/>
<ellipse cx="1196.4" cy="598.7" rx="7.1" ry="7.45" fill="#4472C4" stroke-width="3.3"/>
<ellipse cx="1123.1" cy="608.2" rx="7.1" ry="7.45" fill="#4472C4" stroke-width="3.3"/>
<ellipse cx="1140.8" cy="627.3" rx="7.1" ry="7.45" fill="#4472C4" stroke-width="3.3"/>
<ellipse cx="1163.1" cy="581.2" rx="7.1" ry="7.45" fill="#4472C4" stroke-width="3.3"/>
<ellipse cx="1112.1" cy="639.6" rx="7.1" ry="7.45" fill="#4472C4" stroke-width="3.3"/>
<ellipse cx="1045.8" cy="643.0" rx="7.1" ry="7.45" fill="#4472C4" stroke-width="3.3"/>
<ellipse cx="1174.2" cy="611.6" rx="7.1" ry="7.45" fill="#4472C4" stroke-width="3.3"/>
<ellipse cx="1127.5" cy="599.1" rx="7.1" ry="7.45" fill="#4472C4" stroke-width="3.3"/>
<ellipse cx="1184.4" cy="618.8" rx="7.1" ry="7.45" fill="#4472C4" stroke-width="3.3"/>
<ellipse cx="1172.3" cy="632.0" rx="7.1" ry="7.45" fill="#4472C4" stroke-width="3.3"/>
<ellipse cx="1157.8" cy="592.1" rx="7.1" ry="7.45" fill="#4472C4" stroke-width="3.3"/>
<ellipse cx="1117.2" cy="591.6" rx="7.1" ry="7.45" fill="#4472C4" stroke-width="3.3"/>
<ellipse cx="1200.2" cy="596.2" rx="7.1" ry="7.45" fill="#4472C4" stroke-width="3.3"/>
<ellipse cx="1061.3" cy="621.8" rx="7.1" ry="7.45" fill="#4472C4" stroke-width="3.3"/>
<ellipse cx="1195.0" cy="606.1" rx="7.1" ry="7.45" fill="#4472C4" stroke-width="3.3"/>
<ellipse cx="1079.5" cy="626.9" rx="7.1" ry="7.45" fill="#4472C4" stroke-width="3.3"/>
<ellipse cx="1094.9" cy="653.0" rx="7.1" ry="7.45" fill="#4472C4" stroke-width="3.3"/>
<ellipse cx="1056.9" cy="623.1" rx="7.1" ry="7.45" fill="#4472C4" stroke-width="3.3"/>
<ellipse cx="1147.3" cy="634.9" rx="7.1" ry="7.45" fill="#4472C4" stroke-width="3.3"/>
<ellipse cx="1119.8" cy="622.7" rx="7.1" ry="7.45" fill="#4472C4" stroke-width="3.3"/>
<ellipse cx="1192.4" cy="588.8" rx="7.1" ry="7.45" fill="#4472C4" stroke-width="3.3"/>
<ellipse cx="1143.8" cy="628.6" rx="7.1" ry="7.45" fill="#4472C4" stroke-width="3.3"/>
<ellipse cx="1193.1" cy="589.9" rx="7.1" ry="7.45" fill="#4472C4" stroke-width="3.3"/>
<ellipse cx="1108.6" cy="649.4" rx="7.1" ry="7.45" fill="#4472C4" stroke-width="3.3"/>
<ellipse cx="1131.7" cy="579.2" rx="7.1" ry="7.45" fill="#4472C4" stroke-width="3.3"/>
<ellipse cx="1100.7" cy="648.0" rx="7.1" ry="7.45" fill="#4472C4" stroke-width="3.3"/>
<ellipse cx="1063.6" cy="626.5" rx="7.1" ry="7.45" fill="#4472C4" stroke-width="3.3"/>
<ellipse cx="1099.8" cy="594.7" rx="7.1" ry="7.45" fill="#4472C4" stroke-width="3.3"/>
<ellipse cx="1057.9" cy="620.5" rx="7.1" ry="7.45" fill="#4472C4" stroke-width="3.3"/>
<ellipse cx="1082.7" cy="642.9" rx="7.1" ry="7.45" fill="#4472C4" stroke-width="3.3"/>
<ellipse cx="1070.8" cy="628.6" rx="7.1" ry="7.45" fill="#4472C4" stroke-width="3.3"/>
<ellipse cx="1216.5" cy="625.5" rx="7.1" ry="7.45" fill="#4472C4" stroke-width="3.3"/>
<ellipse cx="1070.3" cy="641.7" rx="7.1" ry="7.45" fill="#4472C4" stroke-width="3.3"/>
<ellipse cx="1077.3" cy="646.5" rx="7.1" ry="7.45" fill="#4472C4" stroke-width="3.3"/>
<ellipse cx="1190.5" cy="626.1" rx="7.1" ry="7.45" fill="#4472C4" stroke-width="3.3"/>
<ellipse cx="1083.3" cy="608.7" rx="7.1" ry="7.45" fill="#4472C4" stroke-width="3.3"/>
<ellipse cx="1174.9" cy="635.4" rx="7.1" ry="7.45" fill="#4472C4" stroke-width="3.3"/>
<ellipse cx="1149.8" cy="634.3" rx="7.1" ry="7.45" fill="#4472C4" stroke-width="3.3"/>
<ellipse cx="1111.5" cy="611.4" rx="7.1" ry="7.45" fill="#4472C4" stroke-width="3.3"/>
<ellipse cx="1174.0" cy="613.4" rx="7.1" ry="7.45" fill="#4472C4" stroke-width="3.3"/>
<ellipse cx="1098.8" cy="626.6" rx="7.1" ry="7.45" fill="#4472C4" stroke-width="3.3"/>
<ellipse cx="1072.6" cy="641.4" rx="7.1" ry="7.45" fill="#4472C4" stroke-width="3.3"/>
<ellipse cx="1230.3" cy="610.1" rx="7.1" ry="7.45" fill="#4472C4" stroke-width="3.3"/>
<ellipse cx="1151.4" cy="633.0" rx="7.1" ry="7.45" fill="#4472C4" stroke-width="3.3"/>
<ellipse cx="1196.4" cy="632.3" rx="7.1" ry="7.45" fill="#4472C4" stroke-width="3.3"/>
<ellipse cx="1140.8" cy="640.7" rx="7.1" ry="7.45" fill="#4472C4" stroke-width="3.3"/>
<ellipse cx="1043.5" cy="660.6" rx="7.1" ry="7.45" fill="#4472C4" stroke-width="3.3"/>
<ellipse cx="1078.6" cy="632.0" rx="7.1" ry="7.45" fill="#4472C4" stroke-width="3.3"/>
<ellipse cx="1081.3" cy="626.1" rx="7.1" ry="7.45" fill="#4472C4" stroke-width="3.3"/>
<ellipse cx="1195.5" cy="597.9" rx="7.1" ry="7.45" fill="#4472C4" stroke-width="3.3"/>
<ellipse cx="1149.3" cy="576.5" rx="7.1" ry="7.45" fill="#4472C4" stroke-width="3.3"/>
<ellipse cx="1150.1" cy="646.9" rx="7.1" ry="7.45" fill="#4472C4" stroke-width="3.3"/>
<ellipse cx="1193.8" cy="604.9" rx="7.1" ry="7.45" fill="#4472C4" stroke-width="3.3"/>
<ellipse cx="1064.2" cy="630.5" rx="7.1" ry="7.45" fill="#4472C4" stroke-width="3.3"/>
<ellipse cx="1099.3" cy="601.0" rx="7.1" ry="7.45" fill="#4472C4" stroke-width="3.3"/>
<ellipse cx="1080.3" cy="610.8" rx="7.1" ry="7.45" fill="#4472C4" stroke-width="3.3"/>
<ellipse cx="1173.5" cy="611.6" rx="7.1" ry="7.45" fill="#4472C4" stroke-width="3.3"/>
<ellipse cx="1166.4" cy="641.3" rx="7.1" ry="7.45" fill="#4472C4" stroke-width="3.3"/>
<ellipse cx="1198.8" cy="627.0" rx="7.1" ry="7.45" fill="#4472C4" stroke-width="3.3"/>
<ellipse cx="1144.9" cy="635.0" rx="7.1" ry="7.45" fill="#4472C4" stroke-width="3.3"/>
<ellipse cx="1122.1" cy="639.1" rx="7.1" ry="7.45" fill="#4472C4" stroke-width="3.3"/>
<ellipse cx="1091.4" cy="603.7" rx="7.1" ry="7.45" fill="#4472C4" stroke-width="3.3"/>
<ellipse cx="1120.3" cy="610.8" rx="7.1" ry="7.45" fill="#4472C4" stroke-width="3.3"/>
<ellipse cx="1057.1" cy="610.5" rx="7.1" ry="7.45" fill="#4472C4" stroke-width="3.3"/>
<ellipse cx="1165.6" cy="642.4" rx="7.1" ry="7.45" fill="#4472C4" stroke-width="3.3"/>
<ellipse cx="1084.2" cy="631.6" rx="7.1" ry="7.45" fill="#4472C4" stroke-width="3.3"/>
<ellipse cx="1187.1" cy="589.2" rx="7.1" ry="7.45" fill="#4472C4" stroke-width="3.3"/>
<ellipse cx="1115.3" cy="603.4" rx="7.1" ry="7.45" fill="#4472C4" stroke-width="3.3"/>
<ellipse cx="1162.7" cy="603.8" rx="7.1" ry="7.45" fill="#4472C4" stroke-width="3.3"/>
<ellipse cx="1157.4" cy="616.7" rx="7.1" ry="7.45" fill="#4472C4" stroke-width="3.3"/>
<ellipse cx="1107.3" cy="610.7" rx="7.1" ry="7.45" fill="#4472C4" stroke-width="3.3"/>
<ellipse cx="1065.9" cy="644.9" rx="7.1" ry="7.45" fill="#4472C4" stroke-width="3.3"/>
<ellipse cx="1112.7" cy="637.9" rx="7.1" ry="7.45" fill="#4472C4" stroke-width="3.3"/>
<ellipse cx="1196.1" cy="587.1" rx="7.1" ry="7.45" fill="#4472C4" stroke-width="3.3"/>
<ellipse cx="1187.9" cy="596.0" rx="7.1" ry="7.45" fill="#4472C4" stroke-width="3.3"/>
<ellipse cx="1139.2" cy="619.8" rx="7.1" ry="7.45" fill="#4472C4" stroke-width="3.3"/>
<ellipse cx="1202.2" cy="629.2" rx="7.1" ry="7.45" fill="#4472C4" stroke-width="3.3"/>
<ellipse cx="1212.8" cy="604.1" rx="7.1" ry="7.45" fill="#4472C4" stroke-width="3.3"/>
<ellipse cx="1048.0" cy="639.5" rx="7.1" ry="7.45" fill="#4472C4" stroke-width="3.3"/>
<ellipse cx="1174.3" cy="643.8" rx="7.1" ry="7.45" fill="#4472C4" stroke-width="3.3"/>
<ellipse cx="1193.0" cy="586.4" rx="7.1" ry="7.45" fill="#4472C4" stroke-width="3.3"/>
<ellipse cx="1051.5" cy="635.1" rx="7.1" ry="7.45" fill="#4472C4" stroke-width="3.3"/>
<ellipse cx="1154.8" cy="634.5" rx="7.1" ry="7.45" fill="#4472C4" stroke-width="3.3"/>
<ellipse cx="1062.7" cy="614.9" rx="7.1" ry="7.45" fill="#4472C4" stroke-width="3.3"/>
<ellipse cx="1165.5" cy="596.5" rx="7.1" ry="7.45" fill="#4472C4" stroke-width="3.3"/>
<ellipse cx="1058.4" cy="637.4" rx="7.1" ry="7.45" fill="#4472C4" stroke-width="3.3"/>
<ellipse cx="1171.5" cy="620.6" rx="7.1" ry="7.45" fill="#4472C4" stroke-width="3.3"/>
<ellipse cx="1091.7" cy="652.7" rx="7.1" ry="7.45" fill="#4472C4" stroke-width="3.3"/>
<ellipse cx="1195.4" cy="596.3" rx="7.1" ry="7.45" fill="#4472C4" stroke-width="3.3"/>
<ellipse cx="1113.4" cy="627.8" rx="7.1" ry="7.45" fill="#4472C4" stroke-width="3.3"/>
<ellipse cx="1171.6" cy="622.1" rx="7.1" ry="7.45" fill="#4472C4" stroke-width="3.3"/>
<ellipse cx="1135.9" cy="584.5" rx="7.1" ry="7.45" fill="#4472C4" stroke-width="3.3"/>
<ellipse cx="1186.4" cy="642.6" rx="7.1" ry="7.45" fill="#4472C4" stroke-width="3.3"/>
<ellipse cx="1043.2" cy="648.5" rx="7.1" ry="7.45" fill="#4472C4" stroke-width="3.3"/>
<ellipse cx="1106.3" cy="594.3" rx="7.1" ry="7.45" fill="#4472C4" stroke-width="3.3"/>
<ellipse cx="1077.5" cy="605.2" rx="7.1" ry="7.45" fill="#4472C4" stroke-width="3.3"/>
<ellipse cx="1132.1" cy="625.3" rx="7.1" ry="7.45" fill="#4472C4" stroke-width="3.3"/>
<ellipse cx="1148.9" cy="587.0" rx="7.1" ry="7.45" fill="#4472C4" stroke-width="3.3"/>
<ellipse cx="1173.8" cy="625.6" rx="7.1" ry="7.45" fill="#4472C4" stroke-width="3.3"/>
<ellipse cx="1089.3" cy="639.0" rx="7.1" ry="7.45" fill="#4472C4" stroke-width="3.3"/>
<ellipse cx="1141.0" cy="608.6" rx="7.1" ry="7.45" fill="#4472C4" stroke-width="3.3"/>
<ellipse cx="1118.0" cy="593.4" rx="7.1" ry="7.45" fill="#4472C4" stroke-width="3.3"/>
<ellipse cx="1058.7" cy="659.0" rx="7.1" ry="7.45" fill="#4472C4" stroke-width="3.3"/>
<ellipse cx="1165.2" cy="590.5" rx="7.1" ry="7.45" fill="#4472C4" stroke-width="3.3"/>
<ellipse cx="1197.4" cy="591.8" rx="7.1" ry="7.45" fill="#4472C4" stroke-width="3.3"/>
<ellipse cx="1169.6" cy="628.5" rx="7.1" ry="7.45" fill="#4472C4" stroke-width="3.3"/>
<ellipse cx="1196.1" cy="612.6" rx="7.1" ry="7.45" fill="#4472C4" stroke-width="3.3"/>
<ellipse cx="1127.5" cy="586.0" rx="7.1" ry="7.45" fill="#4472C4" stroke-width="3.3"/>
<ellipse cx="1089.8" cy="587.1" rx="7.1" ry="7.45" fill="#4472C4" stroke-width="3.3"/>
<ellipse cx="1141.7" cy="648.4" rx="7.1" ry="7.45" fill="#4472C4" stroke-width="3.3"/>
<ellipse cx="1185.3" cy="633.1" rx="7.1" ry="7.45" fill="#4472C4" stroke-width="3.3"/>
<ellipse cx="1123.1" cy="600.4" rx="7.1" ry="7.45" fill="#4472C4" stroke-width="3.3"/>
<ellipse cx="1197.5" cy="636.2" rx="7.1" ry="7.45" fill="#4472C4" stroke-width="3.3"/>
<ellipse cx="1169.8" cy="625.9" rx="7.1" ry="7.45" fill="#4472C4" stroke-width="3.3"/>
<ellipse cx="1194.9" cy="628.7" rx="7.1" ry="7.45" fill="#4472C4" stroke-width="3.3"/>
<ellipse cx="1090.8" cy="609.0" rx="7.1" ry="7.45" fill="#4472C4" stroke-width="3.3"/>
<ellipse cx="1100.0" cy="601.6" rx="7.1" ry="7.45" fill="#4472C4" stroke-width="3.3"/>
<ellipse cx="1160.0" cy="616.1" rx="7.1" ry="7.45" fill="#4472C4" stroke-width="3.3"/>
<ellipse cx="1134.6" cy="584.6" rx="7.1" ry="7.45" fill="#4472C4" stroke-width="3.3"/>
<ellipse cx="1132.5" cy="628.6" rx="7.1" ry="7.45" fill="#4472C4" stroke-width="3.3"/>
<ellipse cx="1108.0" cy="621.2" rx="7.1" ry="7.45" fill="#4472C4" stroke-width="3.3"/>
<ellipse cx="1054.0" cy="661.2" rx="7.1" ry="7.45" fill="#4472C4" stroke-width="3.3"/>
<ellipse cx="1197.7" cy="594.0" rx="7.1" ry="7.45" fill="#4472C4" stroke-width="3.3"/>
<ellipse cx="1064.9" cy="633.5" rx="7.1" ry="7.45" fill="#4472C4" stroke-width="3.3"/>
<ellipse cx="1218.5" cy="598.8" rx="7.1" ry="7.45" fill="#4472C4" stroke-width="3.3"/>
<ellipse cx="1202.5" cy="602.2" rx="7.1" ry="7.45" fill="#4472C4" stroke-width="3.3"/>
<ellipse cx="1158.9" cy="595.5" rx="7.1" ry="7.45" fill="#4472C4" stroke-width="3.3"/>
<ellipse cx="1164.4" cy="577.3" rx="7.1" ry="7.45" fill="#4472C4" stroke-width="3.3"/>
<ellipse cx="1166.6" cy="584.1" rx="7.1" ry="7.45" fill="#4472C4" stroke-width="3.3"/>
<ellipse cx="1126.4" cy="581.4" rx="7.1" ry="7.45" fill="#4472C4" stroke-width="3.3"/>
<ellipse cx="1114.5" cy="589.2" rx="7.1" ry="7.45" fill="#4472C4" stroke-width="3.3"/>
<ellipse cx="1103.6" cy="617.8" rx="7.1" ry="7.45" fill="#4472C4" stroke-width="3.3"/>
<ellipse cx="1168.9" cy="632.7" rx="7.1" ry="7.45" fill="#4472C4" stroke-width="3.3"/>
<ellipse cx="1119.9" cy="588.1" rx="7.1" ry="7.45" fill="#4472C4" stroke-width="3.3"/>
<ellipse cx="1174.1" cy="607.5" rx="7.1" ry="7.45" fill="#4472C4" stroke-width="3.3"/>
<ellipse cx="1223.4" cy="610.6" rx="7.1" ry="7.45" fill="#4472C4" stroke-width="3.3"/>
<ellipse cx="1228.3" cy="618.6" rx="7.1" ry="7.45" fill="#4472C4" stroke-width="3.3"/>
<ellipse cx="1201.3" cy="608.5" rx="7.1" ry="7.45" fill="#4472C4" stroke-width="3.3"/>
<ellipse cx="1158.9" cy="581.9" rx="7.1" ry="7.45" fill="#4472C4" stroke-width="3.3"/>
<ellipse cx="1118.3" cy="604.5" rx="7.1" ry="7.45" fill="#4472C4" stroke-width="3.3"/>
<ellipse cx="1148.9" cy="634.1" rx="7.1" ry="7.45" fill="#4472C4" stroke-width="3.3"/>
<ellipse cx="1086.2" cy="599.4" rx="7.1" ry="7.45" fill="#4472C4" stroke-width="3.3"/>
<ellipse cx="1076.0" cy="612.2" rx="7.1" ry="7.45" fill="#4472C4" stroke-width="3.3"/>
<ellipse cx="1121.9" cy="605.2" rx="7.1" ry="7.45" fill="#4472C4" stroke-width="3.3"/>
<ellipse cx="1115.8" cy="599.9" rx="7.1" ry="7.45" fill="#4472C4" stroke-width="3.3"/>
<ellipse cx="1119.4" cy="591.8" rx="7.1" ry="7.45" fill="#4472C4" stroke-width="3.3"/>
<ellipse cx="1217.8" cy="608.4" rx="7.1" ry="7.45" fill="#4472C4" stroke-width="3.3"/>
<ellipse cx="1041.1" cy="645.1" rx="7.1" ry="7.45" fill="#4472C4" stroke-width="3.3"/>
<ellipse cx="1129.9" cy="624.7" rx="7.1" ry="7.45" fill="#4472C4" stroke-width="3.3"/>
<ellipse cx="1168.3" cy="649.0" rx="7.1" ry="7.45" fill="#4472C4" stroke-width="3.3"/>
<ellipse cx="1141.1" cy="614.6" rx="7.1" ry="7.45" fill="#4472C4" stroke-width="3.3"/>
<ellipse cx="1224.6" cy="626.7" rx="7.1" ry="7.45" fill="#4472C4" stroke-width="3.3"/>
<ellipse cx="1120.2" cy="651.0" rx="7.1" ry="7.45" fill="#4472C4" stroke-width="3.3"/>
<ellipse cx="1120.4" cy="624.8" rx="7.1" ry="7.45" fill="#4472C4" stroke-width="3.3"/>
<ellipse cx="1090.9" cy="604.4" rx="7.1" ry="7.45" fill="#4472C4" stroke-width="3.3"/>
<ellipse cx="1054.6" cy="646.3" rx="7.1" ry="7.45" fill="#4472C4" stroke-width="3.3"/>
<ellipse cx="1135.4" cy="641.6" rx="7.1" ry="7.45" fill="#4472C4" stroke-width="3.3"/>
<ellipse cx="1151.8" cy="583.1" rx="7.1" ry="7.45" fill="#4472C4" stroke-width="3.3"/>
<ellipse cx="1091.9" cy="604.2" rx="7.1" ry="7.45" fill="#4472C4" stroke-width="3.3"/>
<ellipse cx="1193.4" cy="606.6" rx="7.1" ry="7.45" fill="#4472C4" stroke-width="3.3"/>
<ellipse cx="1175.2" cy="623.4" rx="7.1" ry="7.45" fill="#4472C4" stroke-width="3.3"/>
<ellipse cx="1175.5" cy="605.9" rx="7.1" ry="7.45" fill="#4472C4" stroke-width="3.3"/>
<ellipse cx="1059.0" cy="653.2" rx="7.1" ry="7.45" fill="#4472C4" stroke-width="3.3"/>
<ellipse cx="1183.3" cy="627.3" rx="7.1" ry="7.45" fill="#4472C4" stroke-width="3.3"/>
<ellipse cx="1123.1" cy="637.5" rx="7.1" ry="7.45" fill="#4472C4" stroke-width="3.3"/>
<ellipse cx="1086.7" cy="607.2" rx="7.1" ry="7.45" fill="#4472C4" stroke-width="3.3"/>
<ellipse cx="1101.9" cy="649.6" rx="7.1" ry="7.45" fill="#4472C4" stroke-width="3.3"/>
<ellipse cx="1173.6" cy="614.9" rx="7.1" ry="7.45" fill="#4472C4" stroke-width="3.3"/>
<ellipse cx="1170.4" cy="635.7" rx="7.1" ry="7.45" fill="#4472C4" stroke-width="3.3"/>
<ellipse cx="1067.1" cy="628.3" rx="7.1" ry="7.45" fill="#4472C4" stroke-width="3.3"/>
<ellipse cx="1162.7" cy="592.8" rx="7.1" ry="7.45" fill="#4472C4" stroke-width="3.3"/>
<ellipse cx="1043.9" cy="636.8" rx="7.1" ry="7.45" fill="#4472C4" stroke-width="3.3"/>
<ellipse cx="1078.5" cy="654.3" rx="7.1" ry="7.45" fill="#4472C4" stroke-width="3.3"/>
<ellipse cx="1101.5" cy="606.1" rx="7.1" ry="7.45" fill="#4472C4" stroke-width="3.3"/>
<ellipse cx="1153.9" cy="596.1" rx="7.1" ry="7.45" fill="#4472C4" stroke-width="3.3"/>
<ellipse cx="1130.9" cy="587.4" rx="7.1" ry="7.45" fill="#4472C4" stroke-width="3.3"/>
<ellipse cx="1160.1" cy="604.4" rx="7.1" ry="7.45" fill="#4472C4" stroke-width="3.3"/>
<ellipse cx="1063.0" cy="639.8" rx="7.1" ry="7.45" fill="#4472C4" stroke-width="3.3"/>
<ellipse cx="1103.7" cy="614.6" rx="7.1" ry="7.45" fill="#4472C4" stroke-width="3.3"/>
<ellipse cx="1167.8" cy="606.8" rx="7.1" ry="7.45" fill="#4472C4" stroke-width="3.3"/>
<ellipse cx="1114.9" cy="613.9" rx="7.1" ry="7.45" fill="#4472C4" stroke-width="3.3"/>
<ellipse cx="1126.6" cy="585.6" rx="7.1" ry="7.45" fill="#4472C4" stroke-width="3.3"/>
<ellipse cx="1165.5" cy="625.7" rx="7.1" ry="7.45" fill="#4472C4" stroke-width="3.3"/>
<ellipse cx="1106.1" cy="646.1" rx="7.1" ry="7.45" fill="#4472C4" stroke-width="3.3"/>
<ellipse cx="1138.8" cy="626.6" rx="7.1" ry="7.45" fill="#4472C4" stroke-width="3.3"/>
<ellipse cx="1091.2" cy="619.4" rx="7.1" ry="7.45" fill="#4472C4" stroke-width="3.3"/>
<ellipse cx="1168.8" cy="577.4" rx="7.1" ry="7.45" fill="#4472C4" stroke-width="3.3"/>
<ellipse cx="1111.0" cy="639.6" rx="7.1" ry="7.45" fill="#4472C4" stroke-width="3.3"/>
<ellipse cx="1156.1" cy="645.0" rx="7.1" ry="7.45" fill="#4472C4" stroke-width="3.3"/>
<ellipse cx="1141.1" cy="626.3" rx="7.1" ry="7.45" fill="#4472C4" stroke-width="3.3"/>
<ellipse cx="1155.7" cy="648.2" rx="7.1" ry="7.45" fill="#4472C4" stroke-width="3.3"/>
<ellipse cx="1102.9" cy="650.8" rx="7.1" ry="7.45" fill="#4472C4" stroke-width="3.3"/>
<ellipse cx="1154.9" cy="625.6" rx="7.1" ry="7.45" fill="#4472C4" stroke-width="3.3"/>
<ellipse cx="1078.5" cy="638.3" rx="7.1" ry="7.45" fill="#4472C4" stroke-width="3.3"/>
<ellipse cx="1065.9" cy="613.3" rx="7.1" ry="7.45" fill="#4472C4" stroke-width="3.3"/>
<ellipse cx="1217.4" cy="617.7" rx="7.1" ry="7.45" fill="#4472C4" stroke-width="3.3"/>
<ellipse cx="1071.3" cy="656.7" rx="7.1" ry="7.45" fill="#4472C4" stroke-width="3.3"/>
<ellipse cx="1109.6" cy="595.5" rx="7.1" ry="7.45" fill="#4472C4" stroke-width="3.3"/>
<ellipse cx="1145.9" cy="633.4" rx="7.1" ry="7.45" fill="#4472C4" stroke-width="3.3"/>
<ellipse cx="1100.6" cy="598.4" rx="7.1" ry="7.45" fill="#4472C4" stroke-width="3.3"/>
<ellipse cx="1208.7" cy="594.6" rx="7.1" ry="7.45" fill="#4472C4" stroke-width="3.3"/>
<ellipse cx="1040.6" cy="639.8" rx="7.1" ry="7.45" fill="#4472C4" stroke-width="3.3"/>
<ellipse cx="1194.8" cy="582.7" rx="7.1" ry="7.45" fill="#4472C4" stroke-width="3.3"/>
<ellipse cx="1150.8" cy="613.3" rx="7.1" ry="7.45" fill="#4472C4" stroke-width="3.3"/>
<ellipse cx="1139.1" cy="638.3" rx="7.1" ry="7.45" fill="#4472C4" stroke-width="3.3"/>
<ellipse cx="1168.0" cy="629.8" rx="7.1" ry="7.45" fill="#4472C4" stroke-width="3.3"/>
<ellipse cx="1168.0" cy="611.5" rx="7.1" ry="7.45" fill="#4472C4" stroke-width="3.3"/>
<ellipse cx="1172.2" cy="581.6" rx="7.1" ry="7.45" fill="#4472C4" stroke-width="3.3"/>
<ellipse cx="1103.6" cy="616.5" rx="7.1" ry="7.45" fill="#4472C4" stroke-width="3.3"/>
<ellipse cx="1099.4" cy="593.1" rx="7.1" ry="7.45" fill="#4472C4" stroke-width="3.3"/>
<ellipse cx="1112.8" cy="650.9" rx="7.1" ry="7.45" fill="#4472C4" stroke-width="3.3"/>
<ellipse cx="1181.2" cy="643.8" rx="7.1" ry="7.45" fill="#4472C4" stroke-width="3.3"/>
<ellipse cx="1052.8" cy="626.5" rx="7.1" ry="7.45" fill="#4472C4" stroke-width="3.3"/>
<ellipse cx="1057.5" cy="611.1" rx="7.1" ry="7.45" fill="#4472C4" stroke-width="3.3"/>
<ellipse cx="1094.5" cy="584.3" rx="7.1" ry="7.45" fill="#4472C4" stroke-width="3.3"/>
<ellipse cx="1112.8" cy="614.7" rx="7.1" ry="7.45" fill="#4472C4" stroke-width="3.3"/>
<ellipse cx="1153.0" cy="606.5" rx="7.1" ry="7.45" fill="#4472C4" stroke-width="3.3"/>
<ellipse cx="1141.8" cy="576.8" rx="7.1" ry="7.45" fill="#4472C4" stroke-width="3.3"/>
<ellipse cx="1209.4" cy="592.9" rx="7.1" ry="7.45" fill="#4472C4" stroke-width="3.3"/>
<ellipse cx="1144.2" cy="583.3" rx="7.1" ry="7.45" fill="#4472C4" stroke-width="3.3"/>
<ellipse cx="1146.9" cy="647.2" rx="7.1" ry="7.45" fill="#4472C4" stroke-width="3.3"/>
<ellipse cx="1180.5" cy="630.2" rx="7.1" ry="7.45" fill="#4472C4" stroke-width="3.3"/>
<ellipse cx="1183.6" cy="582.9" rx="7.1" ry="7.45" fill="#4472C4" stroke-width="3.3"/>
<ellipse cx="1085.9" cy="599.6" rx="7.1" ry="7.45" fill="#4472C4" stroke-width="3.3"/>
<ellipse cx="1174.6" cy="610.9" rx="7.1" ry="7.45" fill="#4472C4" stroke-width="3.3"/>
<ellipse cx="1115.0" cy="620.7" rx="7.1" ry="7.45" fill="#4472C4" stroke-width="3.3"/>
<ellipse cx="1205.7" cy="600.8" rx="7.1" ry="7.45" fill="#4472C4" stroke-width="3.3"/>
<ellipse cx="1061.5" cy="642.9" rx="7.1" ry="7.45" fill="#4472C4" stroke-width="3.3"/>
<ellipse cx="1055.4" cy="643.9" rx="7.1" ry="7.45" fill="#4472C4" stroke-width="3.3"/>
<ellipse cx="1087.6" cy="633.8" rx="7.1" ry="7.45" fill="#4472C4" stroke-width="3.3"/>
<ellipse cx="1188.9" cy="634.6" rx="7.1" ry="7.45" fill="#4472C4" stroke-width="3.3"/>
<ellipse cx="1130.5" cy="598.9" rx="7.1" ry="7.45" fill="#4472C4" stroke-width="3.3"/>
<ellipse cx="1131.7" cy="649.8" rx="7.1" ry="7.45" fill="#4472C4" stroke-width="3.3"/>
<ellipse cx="1220.1" cy="613.6" rx="7.1" ry="7.45" fill="#4472C4" stroke-width="3.3"/>
<ellipse cx="1126.4" cy="603.3" rx="7.1" ry="7.45" fill="#4472C4" stroke-width="3.3"/>
<ellipse cx="1087.1" cy="653.5" rx="7.1" ry="7.45" fill="#4472C4" stroke-width="3.3"/>
<ellipse cx="1197.3" cy="598.1" rx="7.1" ry="7.45" fill="#4472C4" stroke-width="3.3"/>
<ellipse cx="1056.7" cy="651.3" rx="7.1" ry="7.45" fill="#4472C4" stroke-width="3.3"/>
<ellipse cx="1206.8" cy="598.0" rx="7.1" ry="7.45" fill="#4472C4" stroke-width="3.3"/>
<ellipse cx="1093.5" cy="599.8" rx="7.1" ry="7.45" fill="#4472C4" stroke-width="3.3"/>
<ellipse cx="1065.8" cy="648.9" rx="7.1" ry="7.45" fill="#4472C4" stroke-width="3.3"/>
<ellipse cx="1176.7" cy="646.8" rx="7.1" ry="7.45" fill="#4472C4" stroke-width="3.3"/>
<ellipse cx="1165.6" cy="598.8" rx="7.1" ry="7.45" fill="#4472C4" stroke-width="3.3"/>
<ellipse cx="1144.1" cy="604.3" rx="7.1" ry="7.45" fill="#4472C4" stroke-width="3.3"/>
<ellipse cx="1095.8" cy="605.5" rx="7.1" ry="7.45" fill="#4472C4" stroke-width="3.3"/>
<ellipse cx="1155.6" cy="590.4" rx="7.1" ry="7.45" fill="#4472C4" stroke-width="3.3"/>
<ellipse cx="1070.2" cy="652.4" rx="7.1" ry="7.45" fill="#4472C4" stroke-width="3.3"/>
<ellipse cx="1187.8" cy="607.8" rx="7.1" ry="7.45" fill="#4472C4" stroke-width="3.3"/>
<ellipse cx="1087.9" cy="628.3" rx="7.1" ry="7.45" fill="#4472C4" stroke-width="3.3"/>
<ellipse cx="1126.3" cy="632.8" rx="7.1" ry="7.45" fill="#4472C4" stroke-width="3.3"/>
<ellipse cx="1109.7" cy="639.6" rx="7.1" ry="7.45" fill="#4472C4" stroke-width="3.3"/>
<ellipse cx="1141.1" cy="577.5" rx="7.1" ry="7.45" fill="#4472C4" stroke-width="3.3"/>
<ellipse cx="1134.5" cy="589.6" rx="7.1" ry="7.45" fill="#4472C4" stroke-width="3.3"/>
<ellipse cx="1098.7" cy="592.5" rx="7.1" ry="7.45" fill="#4472C4" stroke-width="3.3"/>
<ellipse cx="1097.5" cy="602.6" rx="7.1" ry="7.45" fill="#4472C4" stroke-width="3.3"/>
<ellipse cx="1063.8" cy="615.1" rx="7.1" ry="7.45" fill="#4472C4" stroke-width="3.3"/>
<ellipse cx="1198.9" cy="586.7" rx="7.1" ry="7.45" fill="#4472C4" stroke-width="3.3"/>
<ellipse cx="1185.0" cy="621.9" rx="7.1" ry="7.45" fill="#4472C4" stroke-width="3.3"/>
<ellipse cx="1157.0" cy="604.4" rx="7.1" ry="7.45" fill="#4472C4" stroke-width="3.3"/>
<ellipse cx="1177.4" cy="601.9" rx="7.1" ry="7.45" fill="#4472C4" stroke-width="3.3"/>
<ellipse cx="1064.9" cy="603.0" rx="7.1" ry="7.45" fill="#4472C4" stroke-width="3.3"/>
<ellipse cx="1132.4" cy="586.7" rx="7.1" ry="7.45" fill="#4472C4" stroke-width="3.3"/>
<ellipse cx="1202.4" cy="636.5" rx="7.1" ry="7.45" fill="#4472C4" stroke-width="3.3"/>
<ellipse cx="1118.8" cy="610.3" rx="7.1" ry="7.45" fill="#4472C4" stroke-width="3.3"/>
<ellipse cx="1049.6" cy="638.4" rx="7.1" ry="7.45" fill="#4472C4" stroke-width="3.3"/>
<ellipse cx="1125.2" cy="612.8" rx="7.1" ry="7.45" fill="#4472C4" stroke-width="3.3"/>
<ellipse cx="1047.4" cy="649.2" rx="7.1" ry="7.45" fill="#4472C4" stroke-width="3.3"/>
<ellipse cx="1047.3" cy="633.3" rx="7.1" ry="7.45" fill="#4472C4" stroke-width="3.3"/>
<ellipse cx="1100.5" cy="613.7" rx="7.1" ry="7.45" fill="#4472C4" stroke-width="3.3"/>
<ellipse cx="1204.3" cy="593.6" rx="7.1" ry="7.45" fill="#4472C4" stroke-width="3.3"/>
<ellipse cx="1139.8" cy="599.3" rx="7.1" ry="7.45" fill="#4472C4" stroke-width="3.3"/>
<ellipse cx="1159.3" cy="624.6" rx="7.1" ry="7.45" fill="#4472C4" stroke-width="3.3"/>
<ellipse cx="1170.6" cy="583.7" rx="7.1" ry="7.45" fill="#4472C4" stroke-width="3.3"/>
<ellipse cx="1163.7" cy="635.3" rx="7.1" ry="7.45" fill="#4472C4" stroke-width="3.3"/>
<ellipse cx="1052.2" cy="663.3" rx="7.1" ry="7.45" fill="#4472C4" stroke-width="3.3"/>
<ellipse cx="1194.1" cy="620.6" rx="7.1" ry="7.45" fill="#4472C4" stroke-width="3.3"/>
<ellipse cx="1051.2" cy="634.1" rx="7.1" ry="7.45" fill="#4472C4" stroke-width="3.3"/>
<ellipse cx="1090.9" cy="594.1" rx="7.1" ry="7.45" fill="#4472C4" stroke-width="3.3"/>
<ellipse cx="1049.4" cy="649.8" rx="7.1" ry="7.45" fill="#4472C4" stroke-width="3.3"/>
<ellipse cx="1095.3" cy="626.3" rx="7.1" ry="7.45" fill="#4472C4" stroke-width="3.3"/>
<ellipse cx="1147.7" cy="588.2" rx="7.1" ry="7.45" fill="#4472C4" stroke-width="3.3"/>
<ellipse cx="1139.8" cy="625.6" rx="7.1" ry="7.45" fill="#4472C4" stroke-width="3.3"/>
<ellipse cx="1187.3" cy="592.4" rx="7.1" ry="7.45" fill="#4472C4" stroke-width="3.3"/>
<ellipse cx="1147.7" cy="579.5" rx="7.1" ry="7.45" fill="#4472C4" stroke-width="3.3"/>
<ellipse cx="1145.6" cy="590.9" rx="7.1" ry="7.45" fill="#4472C4" stroke-width="3.3"/>
<ellipse cx="1093.1" cy="611.7" rx="7.1" ry="7.45" fill="#4472C4" stroke-width="3.3"/>
<ellipse cx="1088.8" cy="598.8" rx="7.1" ry="7.45" fill="#4472C4" stroke-width="3.3"/>
<ellipse cx="1099.8" cy="620.5" rx="7.1" ry="7.45" fill="#4472C4" stroke-width="3.3"/>
<ellipse cx="1202.8" cy="588.6" rx="7.1" ry="7.45" fill="#4472C4" stroke-width="3.3"/>
<ellipse cx="1126.0" cy="636.2" rx="7.1" ry="7.45" fill="#4472C4" stroke-width="3.3"/>
<ellipse cx="1143.7" cy="641.7" rx="7.1" ry="7.45" fill="#4472C4" stroke-width="3.3"/>
<ellipse cx="1077.2" cy="657.2" rx="7.1" ry="7.45" fill="#4472C4" stroke-width="3.3"/>
<ellipse cx="1155.7" cy="630.8" rx="7.1" ry="7.45" fill="#4472C4" stroke-width="3.3"/>
<ellipse cx="1154.5" cy="615.4" rx="7.1" ry="7.45" fill="#4472C4" stroke-width="3.3"/>
<ellipse cx="1133.8" cy="582.5" rx="7.1" ry="7.45" fill="#4472C4" stroke-width="3.3"/>
<ellipse cx="1156.3" cy="592.3" rx="7.1" ry="7.45" fill="#4472C4" stroke-width="3.3"/>
<ellipse cx="1174.0" cy="611.9" rx="7.1" ry="7.45" fill="#4472C4" stroke-width="3.3"/>
<ellipse cx="1168.6" cy="598.9" rx="7.1" ry="7.45" fill="#4472C4" stroke-width="3.3"/>
<ellipse cx="1063.4" cy="635.5" rx="7.1" ry="7.45" fill="#4472C4" stroke-width="3.3"/>
<ellipse cx="1201.8" cy="594.2" rx="7.1" ry="7.45" fill="#4472C4" stroke-width="3.3"/>
<ellipse cx="1046.0" cy="654.2" rx="7.1" ry="7.45" fill="#4472C4" stroke-width="3.3"/>
<ellipse cx="1194.9" cy="613.0" rx="7.1" ry="7.45" fill="#4472C4" stroke-width="3.3"/>
<ellipse cx="1218.1" cy="626.5" rx="7.1" ry="7.45" fill="#4472C4" stroke-width="3.3"/>
<ellipse cx="1050.0" cy="628.8" rx="7.1" ry="7.45" fill="#4472C4" stroke-width="3.3"/>
<ellipse cx="1100.9" cy="649.7" rx="7.1" ry="7.45" fill="#4472C4" stroke-width="3.3"/>
<ellipse cx="1188.1" cy="591.9" rx="7.1" ry="7.45" fill="#4472C4" stroke-width="3.3"/>
<ellipse cx="1179.6" cy="579.3" rx="7.1" ry="7.45" fill="#4472C4" stroke-width="3.3"/>
<ellipse cx="1210.5" cy="601.8" rx="7.1" ry="7.45" fill="#4472C4" stroke-width="3.3"/>
<ellipse cx="1185.4" cy="584.2" rx="7.1" ry="7.45" fill="#4472C4" stroke-width="3.3"/>
<ellipse cx="1140.0" cy="626.3" rx="7.1" ry="7.45" fill="#4472C4" stroke-width="3.3"/>
<ellipse cx="1082.2" cy="608.2" rx="7.1" ry="7.45" fill="#4472C4" stroke-width="3.3"/>
<ellipse cx="1068.1" cy="610.9" rx="7.1" ry="7.45" fill="#4472C4" stroke-width="3.3"/>
<ellipse cx="1066.0" cy="632.8" rx="7.1" ry="7.45" fill="#4472C4" stroke-width="3.3"/>
<ellipse cx="1136.1" cy="607.4" rx="7.1" ry="7.45" fill="#4472C4" stroke-width="3.3"/>
<ellipse cx="1110.4" cy="582.5" rx="7.1" ry="7.45" fill="#4472C4" stroke-width="3.3"/>
<ellipse cx="1070.9" cy="653.4" rx="7.1" ry="7.45" fill="#4472C4" stroke-width="3.3"/>
<ellipse cx="1108.1" cy="588.4" rx="7.1" ry="7.45" fill="#4472C4" stroke-width="3.3"/>
<ellipse cx="1149.4" cy="612.7" rx="7.1" ry="7.45" fill="#4472C4" stroke-width="3.3"/>
<ellipse cx="1066.1" cy="608.9" rx="7.1" ry="7.45" fill="#4472C4" stroke-width="3.3"/>
<ellipse cx="1194.5" cy="624.5" rx="7.1" ry="7.45" fill="#4472C4" stroke-width="3.3"/>
<ellipse cx="1060.1" cy="614.4" rx="7.1" ry="7.45" fill="#4472C4" stroke-width="3.3"/>
<ellipse cx="1165.6" cy="612.5" rx="7.1" ry="7.45" fill="#4472C4" stroke-width="3.3"/>
<ellipse cx="1093.3" cy="649.2" rx="7.1" ry="7.45" fill="#4472C4" stroke-width="3.3"/>
<ellipse cx="1207.2" cy="634.2" rx="7.1" ry="7.45" fill="#4472C4" stroke-width="3.3"/>
<ellipse cx="1065.0" cy="642.5" rx="7.1" ry="7.45" fill="#4472C4" stroke-width="3.3"/>
<ellipse cx="1158.8" cy="642.0" rx="7.1" ry="7.45" fill="#4472C4" stroke-width="3.3"/>
<ellipse cx="1184.0" cy="626.3" rx="7.1" ry="7.45" fill="#4472C4" stroke-width="3.3"/>
<ellipse cx="1114.7" cy="651.3" rx="7.1" ry="7.45" fill="#4472C4" stroke-width="3.3"/>
<ellipse cx="1098.7" cy="594.3" rx="7.1" ry="7.45" fill="#4472C4" stroke-width="3.3"/>
<ellipse cx="1076.8" cy="637.0" rx="7.1" ry="7.45" fill="#4472C4" stroke-width="3.3"/>
<ellipse cx="1127.5" cy="624.7" rx="7.1" ry="7.45" fill="#4472C4" stroke-width="3.3"/>
<ellipse cx="1121.0" cy="625.0" rx="7.1" ry="7.45" fill="#4472C4" stroke-width="3.3"/>
<ellipse cx="1112.0" cy="628.5" rx="7.1" ry="7.45" fill="#4472C4" stroke-width="3.3"/>
<ellipse cx="1228.9" cy="613.4" rx="7.1" ry="7.45" fill="#4472C4" stroke-width="3.3"/>
<ellipse cx="1084.5" cy="645.2" rx="7.1" ry="7.45" fill="#4472C4" stroke-width="3.3"/>
<ellipse cx="1082.9" cy="626.1" rx="7.1" ry="7.45" fill="#4472C4" stroke-width="3.3"/>
<ellipse cx="1221.9" cy="613.4" rx="7.1" ry="7.45" fill="#4472C4" stroke-width="3.3"/>
<ellipse cx="1085.6" cy="655.9" rx="7.1" ry="7.45" fill="#4472C4" stroke-width="3.3"/>
<ellipse cx="1097.3" cy="607.6" rx="7.1" ry="7.45" fill="#4472C4" stroke-width="3.3"/>
<ellipse cx="1076.7" cy="594.8" rx="7.1" ry="7.45" fill="#4472C4" stroke-width="3.3"/>
<ellipse cx="1190.7" cy="615.2" rx="7.1" ry="7.45" fill="#4472C4" stroke-width="3.3"/>
<ellipse cx="1099.9" cy="608.2" rx="7.1" ry="7.45" fill="#4472C4" stroke-width="3.3"/>
<ellipse cx="1101.9" cy="599.4" rx="7.1" ry="7.45" fill="#4472C4" stroke-width="3.3"/>
<ellipse cx="1092.0" cy="646.4" rx="7.1" ry="7.45" fill="#4472C4" stroke-width="3.3"/>
<ellipse cx="1059.5" cy="605.3" rx="7.1" ry="7.45" fill="#4472C4" stroke-width="3.3"/>
<ellipse cx="1226.4" cy="613.3" rx="7.1" ry="7.45" fill="#4472C4" stroke-width="3.3"/>
<ellipse cx="1198.0" cy="609.1" rx="7.1" ry="7.45" fill="#4472C4" stroke-width="3.3"/>
<ellipse cx="1072.4" cy="600.7" rx="7.1" ry="7.45" fill="#4472C4" stroke-width="3.3"/>
<ellipse cx="1058.6" cy="658.5" rx="7.1" ry="7.45" fill="#4472C4" stroke-width="3.3"/>
<ellipse cx="1123.7" cy="621.0" rx="7.1" ry="7.45" fill="#4472C4" stroke-width="3.3"/>
<ellipse cx="1078.3" cy="622.6" rx="7.1" ry="7.45" fill="#4472C4" stroke-width="3.3"/>
<ellipse cx="1150.2" cy="641.6" rx="7.1" ry="7.45" fill="#4472C4" stroke-width="3.3"/>
<ellipse cx="1055.5" cy="608.0" rx="7.1" ry="7.45" fill="#4472C4" stroke-width="3.3"/>
<ellipse cx="1101.1" cy="610.0" rx="7.1" ry="7.45" fill="#4472C4" stroke-width="3.3"/>
<ellipse cx="1197.0" cy="591.3" rx="7.1" ry="7.45" fill="#4472C4" stroke-width="3.3"/>
<ellipse cx="1128.7" cy="624.6" rx="7.1" ry="7.45" fill="#4472C4" stroke-width="3.3"/>
<ellipse cx="1075.3" cy="600.6" rx="7.1" ry="7.45" fill="#4472C4" stroke-width="3.3"/>
<ellipse cx="1111.5" cy="651.5" rx="7.1" ry="7.45" fill="#4472C4" stroke-width="3.3"/>
<ellipse cx="1082.3" cy="614.4" rx="7.1" ry="7.45" fill="#4472C4" stroke-width="3.3"/>
<ellipse cx="1116.5" cy="621.9" rx="7.1" ry="7.45" fill="#4472C4" stroke-width="3.3"/>
<ellipse cx="1153.4" cy="616.2" rx="7.1" ry="7.45" fill="#4472C4" stroke-width="3.3"/>
<ellipse cx="1096.9" cy="640.3" rx="7.1" ry="7.45" fill="#4472C4" stroke-width="3.3"/>
<ellipse cx="1068.1" cy="630.9" rx="7.1" ry="7.45" fill="#4472C4" stroke-width="3.3"/>
<ellipse cx="1137.4" cy="581.2" rx="7.1" ry="7.45" fill="#4472C4" stroke-width="3.3"/>
<ellipse cx="1137.7" cy="605.8" rx="7.1" ry="7.45" fill="#4472C4" stroke-width="3.3"/>
<ellipse cx="1174.4" cy="625.4" rx="7.1" ry="7.45" fill="#4472C4" stroke-width="3.3"/>
<ellipse cx="1116.0" cy="639.2" rx="7.1" ry="7.45" fill="#4472C4" stroke-width="3.3"/>
<ellipse cx="1211.9" cy="608.3" rx="7.1" ry="7.45" fill="#4472C4" stroke-width="3.3"/>
<ellipse cx="1091.4" cy="616.1" rx="7.1" ry="7.45" fill="#4472C4" stroke-width="3.3"/>
<ellipse cx="1134.8" cy="607.8" rx="7.1" ry="7.45" fill="#4472C4" stroke-width="3.3"/>
<ellipse cx="1149.5" cy="646.8" rx="7.1" ry="7.45" fill="#4472C4" stroke-width="3.3"/>
<ellipse cx="1210.9" cy="612.6" rx="7.1" ry="7.45" fill="#4472C4" stroke-width="3.3"/>
<ellipse cx="1094.8" cy="645.0" rx="7.1" ry="7.45" fill="#4472C4" stroke-width="3.3"/>
<ellipse cx="1177.7" cy="600.0" rx="7.1" ry="7.45" fill="#4472C4" stroke-width="3.3"/>
<ellipse cx="1126.3" cy="597.5" rx="7.1" ry="7.45" fill="#4472C4" stroke-width="3.3"/>
<ellipse cx="1142.2" cy="594.0" rx="7.1" ry="7.45" fill="#4472C4" stroke-width="3.3"/>
<ellipse cx="1103.6" cy="603.3" rx="7.1" ry="7.45" fill="#4472C4" stroke-width="3.3"/>
<ellipse cx="1131.5" cy="582.7" rx="7.1" ry="7.45" fill="#4472C4" stroke-width="3.3"/>
<ellipse cx="1126.1" cy="605.4" rx="7.1" ry="7.45" fill="#4472C4" stroke-width="3.3"/>
<ellipse cx="1084.1" cy="597.5" rx="7.1" ry="7.45" fill="#4472C4" stroke-width="3.3"/>
<ellipse cx="1191.1" cy="628.8" rx="7.1" ry="7.45" fill="#4472C4" stroke-width="3.3"/>
<ellipse cx="1208.8" cy="618.7" rx="7.1" ry="7.45" fill="#4472C4" stroke-width="3.3"/>
<ellipse cx="1053.4" cy="635.9" rx="7.1" ry="7.45" fill="#4472C4" stroke-width="3.3"/>
<ellipse cx="1064.0" cy="632.6" rx="7.1" ry="7.45" fill="#4472C4" stroke-width="3.3"/>
<ellipse cx="1184.1" cy="636.8" rx="7.1" ry="7.45" fill="#4472C4" stroke-width="3.3"/>
<ellipse cx="1095.7" cy="616.7" rx="7.1" ry="7.45" fill="#4472C4" stroke-width="3.3"/>
<ellipse cx="1146.5" cy="611.2" rx="7.1" ry="7.45" fill="#4472C4" stroke-width="3.3"/>
<ellipse cx="1130.1" cy="618.9" rx="7.1" ry="7.45" fill="#4472C4" stroke-width="3.3"/>
<ellipse cx="1141.0" cy="578.5" rx="7.1" ry="7.45" fill="#4472C4" stroke-width="3.3"/>
<ellipse cx="1068.1" cy="645.3" rx="7.1" ry="7.45" fill="#4472C4" stroke-width="3.3"/>
<ellipse cx="1209.7" cy="593.9" rx="7.1" ry="7.45" fill="#4472C4" stroke-width="3.3"/>
<ellipse cx="1212.3" cy="615.4" rx="7.1" ry="7.45" fill="#4472C4" stroke-width="3.3"/>
<ellipse cx="1232.2" cy="620.2" rx="7.1" ry="7.45" fill="#4472C4" stroke-width="3.3"/>
<ellipse cx="1061.7" cy="644.7" rx="7.1" ry="7.45" fill="#4472C4" stroke-width="3.3"/>
<ellipse cx="1062.5" cy="638.4" rx="7.1" ry="7.45" fill="#4472C4" stroke-width="3.3"/>
<ellipse cx="1199.5" cy="613.8" rx="7.1" ry="7.45" fill="#4472C4" stroke-width="3.3"/>
<ellipse cx="1152.2" cy="593.4" rx="7.1" ry="7.45" fill="#4472C4" stroke-width="3.3"/>
<ellipse cx="1133.1" cy="649.6" rx="7.1" ry="7.45" fill="#4472C4" stroke-width="3.3"/>
<ellipse cx="1060.3" cy="657.3" rx="7.1" ry="7.45" fill="#4472C4" stroke-width="3.3"/>
<ellipse cx="1054.3" cy="640.7" rx="7.1" ry="7.45" fill="#4472C4" stroke-width="3.3"/>
<ellipse cx="1042.4" cy="652.9" rx="7.1" ry="7.45" fill="#4472C4" stroke-width="3.3"/>
<ellipse cx="1101.0" cy="625.2" rx="7.1" ry="7.45" fill="#4472C4" stroke-width="3.3"/>
<ellipse cx="1047.5" cy="635.8" rx="7.1" ry="7.45" fill="#4472C4" stroke-width="3.3"/>
<ellipse cx="1204.3" cy="588.8" rx="7.1" ry="7.45" fill="#4472C4" stroke-width="3.3"/>
<ellipse cx="1046.0" cy="635.8" rx="7.1" ry="7.45" fill="#4472C4" stroke-width="3.3"/>
<ellipse cx="1092.3" cy="640.1" rx="7.1" ry="7.45" fill="#4472C4" stroke-width="3.3"/>
<ellipse cx="1101.2" cy="622.3" rx="7.1" ry="7.45" fill="#4472C4" stroke-width="3.3"/>
<ellipse cx="1086.2" cy="586.5" rx="7.1" ry="7.45" fill="#4472C4" stroke-width="3.3"/>
<ellipse cx="1060.9" cy="608.4" rx="7.1" ry="7.45" fill="#4472C4" stroke-width="3.3"/>
<ellipse cx="1051.1" cy="624.4" rx="7.1" ry="7.45" fill="#4472C4" stroke-width="3.3"/>
<ellipse cx="1179.4" cy="591.4" rx="7.1" ry="7.45" fill="#4472C4" stroke-width="3.3"/>
<ellipse cx="1151.6" cy="582.7" rx="7.1" ry="7.45" fill="#4472C4" stroke-width="3.3"/>
<ellipse cx="1130.8" cy="649.4" rx="7.1" ry="7.45" fill="#4472C4" stroke-width="3.3"/>
<ellipse cx="1076.1" cy="617.3" rx="7.1" ry="7.45" fill="#4472C4" stroke-width="3.3"/>
<ellipse cx="1217.1" cy="599.4" rx="7.1" ry="7.45" fill="#4472C4" stroke-width="3.3"/>
<ellipse cx="1193.3" cy="582.1" rx="7.1" ry="7.45" fill="#4472C4" stroke-width="3.3"/>
<ellipse cx="1092.9" cy="645.8" rx="7.1" ry="7.45" fill="#4472C4" stroke-width="3.3"/>
<ellipse cx="1210.1" cy="601.5" rx="7.1" ry="7.45" fill="#4472C4" stroke-width="3.3"/>
<ellipse cx="1120.0" cy="605.2" rx="7.1" ry="7.45" fill="#4472C4" stroke-width="3.3"/>
<ellipse cx="1076.8" cy="605.0" rx="7.1" ry="7.45" fill="#4472C4" stroke-width="3.3"/>
<ellipse cx="1204.5" cy="627.3" rx="7.1" ry="7.45" fill="#4472C4" stroke-width="3.3"/>
<ellipse cx="1205.4" cy="627.0" rx="7.1" ry="7.45" fill="#4472C4" stroke-width="3.3"/>
<ellipse cx="1172.5" cy="625.6" rx="7.1" ry="7.45" fill="#4472C4" stroke-width="3.3"/>
<ellipse cx="1080.7" cy="619.7" rx="7.1" ry="7.45" fill="#4472C4" stroke-width="3.3"/>
<ellipse cx="1106.8" cy="595.9" rx="7.1" ry="7.45" fill="#4472C4" stroke-width="3.3"/>
<ellipse cx="1146.4" cy="600.1" rx="7.1" ry="7.45" fill="#4472C4" stroke-width="3.3"/>
<ellipse cx="1110.9" cy="602.0" rx="7.1" ry="7.45" fill="#4472C4" stroke-width="3.3"/>
<ellipse cx="1194.3" cy="622.4" rx="7.1" ry="7.45" fill="#4472C4" stroke-width="3.3"/>
<ellipse cx="1134.6" cy="642.0" rx="7.1" ry="7.45" fill="#4472C4" stroke-width="3.3"/>
<ellipse cx="1204.5" cy="630.3" rx="7.1" ry="7.45" fill="#4472C4" stroke-width="3.3"/>
<ellipse cx="1183.3" cy="592.8" rx="7.1" ry="7.45" fill="#4472C4" stroke-width="3.3"/>
<ellipse cx="1173.9" cy="601.3" rx="7.1" ry="7.45" fill="#4472C4" stroke-width="3.3"/>
<ellipse cx="1085.7" cy="624.5" rx="7.1" ry="7.45" fill="#4472C4" stroke-width="3.3"/>
<ellipse cx="1125.6" cy="590.5" rx="7.1" ry="7.45" fill="#4472C4" stroke-width="3.3"/>
<ellipse cx="1176.1" cy="602.7" rx="7.1" ry="7.45" fill="#4472C4" stroke-width="3.3"/>
<ellipse cx="1047.8" cy="652.4" rx="7.1" ry="7.45" fill="#4472C4" stroke-width="3.3"/>
<ellipse cx="1128.1" cy="604.1" rx="7.1" ry="7.45" fill="#4472C4" stroke-width="3.3"/>
<ellipse cx="1168.4" cy="603.6" rx="7.1" ry="7.45" fill="#4472C4" stroke-width="3.3"/>
<ellipse cx="1176.9" cy="579.2" rx="7.1" ry="7.45" fill="#4472C4" stroke-width="3.3"/>
<ellipse cx="1117.5" cy="649.6" rx="7.1" ry="7.45" fill="#4472C4" stroke-width="3.3"/>
<ellipse cx="1185.0" cy="603.6" rx="7.1" ry="7.45" fill="#4472C4" stroke-width="3.3"/>
<ellipse cx="1056.6" cy="633.2" rx="7.1" ry="7.45" fill="#4472C4" stroke-width="3.3"/>
<ellipse cx="1068.4" cy="650.7" rx="7.1" ry="7.45" fill="#4472C4" stroke-width="3.3"/>
<ellipse cx="1205.4" cy="593.7" rx="7.1" ry="7.45" fill="#4472C4" stroke-width="3.3"/>
<ellipse cx="1089.3" cy="630.9" rx="7.1" ry="7.45" fill="#4472C4" stroke-width="3.3"/>
<ellipse cx="1095.0" cy="619.3" rx="7.1" ry="7.45" fill="#4472C4" stroke-width="3.3"/>
<ellipse cx="1144.0" cy="610.8" rx="7.1" ry="7.45" fill="#4472C4" stroke-width="3.3"/>
<ellipse cx="1058.8" cy="638.2" rx="7.1" ry="7.45" fill="#4472C4" stroke-width="3.3"/>
<ellipse cx="1212.4" cy="630.6" rx="7.1" ry="7.45" fill="#4472C4" stroke-width="3.3"/>
<ellipse cx="1131.3" cy="611.6" rx="7.1" ry="7.45" fill="#4472C4" stroke-width="3.3"/>
<ellipse cx="1154.1" cy="635.2" rx="7.1" ry="7.45" fill="#4472C4" stroke-width="3.3"/>
<ellipse cx="1174.3" cy="603.1" rx="7.1" ry="7.45" fill="#4472C4" stroke-width="3.3"/>
<ellipse cx="1149.9" cy="580.7" rx="7.1" ry="7.45" fill="#4472C4" stroke-width="3.3"/>
<ellipse cx="1205.8" cy="587.4" rx="7.1" ry="7.45" fill="#4472C4" stroke-width="3.3"/>
<ellipse cx="1112.3" cy="605.0" rx="7.1" ry="7.45" fill="#4472C4" stroke-width="3.3"/>
<ellipse cx="1176.4" cy="581.7" rx="7.1" ry="7.45" fill="#4472C4" stroke-width="3.3"/>
<ellipse cx="1151.0" cy="607.2" rx="7.1" ry="7.45" fill="#4472C4" stroke-width="3.3"/>
<ellipse cx="1091.1" cy="641.3" rx="7.1" ry="7.45" fill="#4472C4" stroke-width="3.3"/>
<ellipse cx="1117.7" cy="613.6" rx="7.1" ry="7.45" fill="#4472C4" stroke-width="3.3"/>
<ellipse cx="1185.3" cy="637.7" rx="7.1" ry="7.45" fill="#4472C4" stroke-width="3.3"/>
<ellipse cx="1214.2" cy="602.4" rx="7.1" ry="7.45" fill="#4472C4" stroke-width="3.3"/>
<ellipse cx="1168.5" cy="635.1" rx="7.1" ry="7.45" fill="#4472C4" stroke-width="3.3"/>
<ellipse cx="1083.7" cy="644.2" rx="7.1" ry="7.45" fill="#4472C4" stroke-width="3.3"/>
<ellipse cx="1218.4" cy="628.9" rx="7.1" ry="7.45" fill="#4472C4" stroke-width="3.3"/>
<ellipse cx="1193.1" cy="600.6" rx="7.1" ry="7.45" fill="#4472C4" stroke-width="3.3"/>
<ellipse cx="1205.6" cy="605.1" rx="7.1" ry="7.45" fill="#4472C4" stroke-width="3.3"/>
<ellipse cx="1098.8" cy="626.4" rx="7.1" ry="7.45" fill="#4472C4" stroke-width="3.3"/>
<ellipse cx="1159.5" cy="617.5" rx="7.1" ry="7.45" fill="#4472C4" stroke-width="3.3"/>
<ellipse cx="1118.0" cy="610.5" rx="7.1" ry="7.45" fill="#4472C4" stroke-width="3.3"/>
<ellipse cx="1065.1" cy="652.9" rx="7.1" ry="7.45" fill="#4472C4" stroke-width="3.3"/>
<ellipse cx="1174.9" cy="604.2" rx="7.1" ry="7.45" fill="#4472C4" stroke-width="3.3"/>
<ellipse cx="1198.2" cy="636.8" rx="7.1" ry="7.45" fill="#4472C4" stroke-width="3.3"/>
<ellipse cx="1128.2" cy="623.3" rx="7.1" ry="7.45" fill="#4472C4" stroke-width="3.3"/>
<ellipse cx="1226.4" cy="624.2" rx="7.1" ry="7.45" fill="#4472C4" stroke-width="3.3"/>
<ellipse cx="1059.3" cy="615.0" rx="7.1" ry="7.45" fill="#4472C4" stroke-width="3.3"/>
<ellipse cx="1125.2" cy="611.5" rx="7.1" ry="7.45" fill="#4472C4" stroke-width="3.3"/>
<ellipse cx="1054.5" cy="637.0" rx="7.1" ry="7.45" fill="#4472C4" stroke-width="3.3"/>
<ellipse cx="1223.2" cy="627.9" rx="7.1" ry="7.45" fill="#4472C4" stroke-width="3.3"/>
<ellipse cx="1051.6" cy="619.6" rx="7.1" ry="7.45" fill="#4472C4" stroke-width="3.3"/>
<ellipse cx="1607.6" cy="49.4" rx="7.1" ry="7.45" fill="#4472C4"/>
<ellipse cx="1674.5" cy="174.7" rx="7.1" ry="7.45" fill="#4472C4"/>
<ellipse cx="1610.4" cy="222.7" rx="7.1" ry="7.45" fill="#4472C4"/>
<ellipse cx="1641.7" cy="305.0" rx="7.1" ry="7.45" fill="#4472C4"/>
<ellipse cx="1394.2" cy="329.8" rx="7.1" ry="7.45" fill="#4472C4"/>
<ellipse cx="1415.4" cy="357.5" rx="7.1" ry="7.45" fill="#4472C4"/>
<ellipse cx="1559.7" cy="347.0" rx="7.1" ry="7.45" fill="#4472C4"/>
<ellipse cx="1524.0" cy="365.9" rx="7.1" ry="7.45" fill="#4472C4"/>
<ellipse cx="1445.3" cy="374.9" rx="7.1" ry="7.45" fill="#4472C4"/>
<ellipse cx="1451.6" cy="382.7" rx="7.1" ry="7.45" fill="#4472C4"/>
<ellipse cx="1386.7" cy="407.1" rx="7.1" ry="7.45" fill="#4472C4"/>
<ellipse cx="1464.4" cy="405.6" rx="7.1" ry="7.45" fill="#4472C4"/>
<ellipse cx="1580.7" cy="394.7" rx="7.1" ry="7.45" fill="#4472C4"/>
<ellipse cx="1442.1" cy="434.8" rx="7.1" ry="7.45" fill="#4472C4"/>
<ellipse cx="1360.2" cy="457.3" rx="7.1" ry="7.45" fill="#4472C4"/>
<ellipse cx="1372.4" cy="459.4" rx="7.1" ry="7.45" fill="#4472C4"/>
<ellipse cx="1433.1" cy="479.3" rx="7.1" ry="7.45" fill="#4472C4"/>
<ellipse cx="1385.0" cy="491.9" rx="7.1" ry="7.45" fill="#4472C4"/>
<ellipse cx="1398.6" cy="491.9" rx="7.1" ry="7.45" fill="#4472C4"/>
<ellipse cx="1415.4" cy="492.3" rx="7.1" ry="7.45" fill="#4472C4"/>
<ellipse cx="1304.3" cy="428.2" rx="7.1" ry="7.45" fill="#4472C4"/>
<ellipse cx="1313.4" cy="457.6" rx="7.1" ry="7.45" fill="#4472C4"/>
<ellipse cx="1312.0" cy="452.0" rx="7.1" ry="7.45" fill="#4472C4"/>
<ellipse cx="1307.1" cy="464.6" rx="7.1" ry="7.45" fill="#4472C4"/>
<ellipse cx="1202.0" cy="507.5" rx="7.1" ry="7.45" fill="#4472C4"/>
<ellipse cx="1185.2" cy="523.2" rx="7.1" ry="7.45" fill="#4472C4"/>
<ellipse cx="1221.6" cy="528.8" rx="7.1" ry="7.45" fill="#4472C4"/>
<ellipse cx="1213.9" cy="524.6" rx="7.1" ry="7.45" fill="#4472C4"/>
<ellipse cx="1237.7" cy="530.9" rx="7.1" ry="7.45" fill="#4472C4"/>
<ellipse cx="1188.0" cy="532.3" rx="7.1" ry="7.45" fill="#4472C4"/>
<ellipse cx="1232.1" cy="534.4" rx="7.1" ry="7.45" fill="#4472C4"/>
<ellipse cx="1204.8" cy="540.0" rx="7.1" ry="7.45" fill="#4472C4"/>
<ellipse cx="1199.2" cy="540.7" rx="7.1" ry="7.45" fill="#4472C4"/>
<ellipse cx="1230.0" cy="544.2" rx="7.1" ry="7.45" fill="#4472C4"/>
<ellipse cx="1218.1" cy="542.8" rx="7.1" ry="7.45" fill="#4472C4"/>
<ellipse cx="1190.1" cy="547.7" rx="7.1" ry="7.45" fill="#4472C4"/>
<ellipse cx="1203.4" cy="551.2" rx="7.1" ry="7.45" fill="#4472C4"/>
<ellipse cx="1230.0" cy="549.8" rx="7.1" ry="7.45" fill="#4472C4"/>
<ellipse cx="1161.4" cy="550.5" rx="7.1" ry="7.45" fill="#4472C4"/>
<ellipse cx="1178.2" cy="554.0" rx="7.1" ry="7.45" fill="#4472C4"/>
<ellipse cx="1219.5" cy="555.4" rx="7.1" ry="7.45" fill="#4472C4"/>
<ellipse cx="1246.8" cy="555.4" rx="7.1" ry="7.45" fill="#4472C4"/>
<ellipse cx="1241.2" cy="555.4" rx="7.1" ry="7.45" fill="#4472C4"/>
<ellipse cx="1134.8" cy="555.4" rx="7.1" ry="7.45" fill="#4472C4"/>
<ellipse cx="1160.0" cy="561.0" rx="7.1" ry="7.45" fill="#4472C4"/>
<ellipse cx="1148.8" cy="563.8" rx="7.1" ry="7.45" fill="#4472C4"/>
<ellipse cx="1127.8" cy="566.6" rx="7.1" ry="7.45" fill="#4472C4"/>
<ellipse cx="1180.3" cy="568.0" rx="7.1" ry="7.45" fill="#4472C4"/>
<ellipse cx="1038.9" cy="571.5" rx="7.1" ry="7.45" fill="#4472C4"/>
<ellipse cx="1092.8" cy="565.2" rx="7.1" ry="7.45" fill="#4472C4"/>
<ellipse cx="1108.2" cy="570.8" rx="7.1" ry="7.45" fill="#4472C4"/>
<ellipse cx="1097.0" cy="576.4" rx="7.1" ry="7.45" fill="#4472C4"/>
<ellipse cx="1079.5" cy="580.6" rx="7.1" ry="7.45" fill="#4472C4"/>
<ellipse cx="1153.0" cy="575.0" rx="7.1" ry="7.45" fill="#4472C4"/>
<ellipse cx="1143.2" cy="579.2" rx="7.1" ry="7.45" fill="#4472C4"/>
<ellipse cx="1197.8" cy="575.0" rx="7.1" ry="7.45" fill="#4472C4"/>
<ellipse cx="1188.7" cy="579.2" rx="7.1" ry="7.45" fill="#4472C4"/>
<ellipse cx="1258.0" cy="506.4" rx="7.1" ry="7.45" fill="#4472C4"/>
<ellipse cx="1328.4" cy="478.4" rx="7.1" ry="7.45" fill="#4472C4"/>
<ellipse cx="1289.9" cy="482.6" rx="7.1" ry="7.45" fill="#4472C4"/>
<ellipse cx="1292.0" cy="488.2" rx="7.1" ry="7.45" fill="#4472C4"/>
<ellipse cx="1336.8" cy="492.4" rx="7.1" ry="7.45" fill="#4472C4"/>
<ellipse cx="1362.0" cy="492.4" rx="7.1" ry="7.45" fill="#4472C4"/>
<ellipse cx="1354.3" cy="491.7" rx="7.1" ry="7.45" fill="#4472C4"/>
<ellipse cx="1266.1" cy="516.9" rx="7.1" ry="7.45" fill="#4472C4"/>
<ellipse cx="1279.4" cy="516.2" rx="7.1" ry="7.45" fill="#4472C4"/>
<ellipse cx="1275.2" cy="516.2" rx="7.1" ry="7.45" fill="#4472C4"/>
<ellipse cx="1275.2" cy="526.0" rx="7.1" ry="7.45" fill="#4472C4"/>
<ellipse cx="1298.3" cy="516.9" rx="7.1" ry="7.45" fill="#4472C4"/>
<ellipse cx="1310.2" cy="517.6" rx="7.1" ry="7.45" fill="#4472C4"/>
<ellipse cx="1318.6" cy="516.9" rx="7.1" ry="7.45" fill="#4472C4"/>
<ellipse cx="1323.5" cy="516.2" rx="7.1" ry="7.45" fill="#4472C4"/>
<ellipse cx="1339.6" cy="505.0" rx="7.1" ry="7.45" fill="#4472C4"/>
<ellipse cx="1351.5" cy="505.0" rx="7.1" ry="7.45" fill="#4472C4"/>
<ellipse cx="1336.1" cy="515.5" rx="7.1" ry="7.45" fill="#4472C4"/>
<ellipse cx="1347.3" cy="514.8" rx="7.1" ry="7.45" fill="#4472C4"/>
<ellipse cx="1363.4" cy="516.2" rx="7.1" ry="7.45" fill="#4472C4"/>
<ellipse cx="1359.2" cy="516.2" rx="7.1" ry="7.45" fill="#4472C4"/>
<ellipse cx="1283.6" cy="534.4" rx="7.1" ry="7.45" fill="#4472C4"/>
<ellipse cx="1279.4" cy="538.6" rx="7.1" ry="7.45" fill="#4472C4"/>
<ellipse cx="1272.4" cy="542.8" rx="7.1" ry="7.45" fill="#4472C4"/>
<ellipse cx="1283.6" cy="542.8" rx="7.1" ry="7.45" fill="#4472C4"/>
<ellipse cx="1312.3" cy="543.5" rx="7.1" ry="7.45" fill="#4472C4"/>
<ellipse cx="1322.8" cy="544.2" rx="7.1" ry="7.45" fill="#4472C4"/>
<ellipse cx="1331.9" cy="544.9" rx="7.1" ry="7.45" fill="#4472C4"/>
<ellipse cx="1340.3" cy="543.5" rx="7.1" ry="7.45" fill="#4472C4"/>
<ellipse cx="1362.0" cy="543.5" rx="7.1" ry="7.45" fill="#4472C4"/>
<ellipse cx="1264.7" cy="553.3" rx="7.1" ry="7.45" fill="#4472C4"/>
<ellipse cx="1262.6" cy="567.3" rx="7.1" ry="7.45" fill="#4472C4"/>
<ellipse cx="1279.4" cy="569.4" rx="7.1" ry="7.45" fill="#4472C4"/>
<ellipse cx="1296.2" cy="575.7" rx="7.1" ry="7.45" fill="#4472C4"/>
<ellipse cx="1316.5" cy="575.0" rx="7.1" ry="7.45" fill="#4472C4"/>
<ellipse cx="1331.9" cy="575.0" rx="7.1" ry="7.45" fill="#4472C4"/>
<ellipse cx="1358.5" cy="575.0" rx="7.1" ry="7.45" fill="#4472C4"/>
<ellipse cx="1266.8" cy="577.8" rx="7.1" ry="7.45" fill="#4472C4"/>
<ellipse cx="1041.7" cy="612.1" rx="7.1" ry="7.45" fill="#4472C4"/>
<ellipse cx="1050.8" cy="618.4" rx="7.1" ry="7.45" fill="#4472C4"/>
<ellipse cx="1037.5" cy="631.0" rx="7.1" ry="7.45" fill="#4472C4"/>
<ellipse cx="1036.8" cy="639.4" rx="7.1" ry="7.45" fill="#4472C4"/>
<ellipse cx="1046.6" cy="647.8" rx="7.1" ry="7.45" fill="#4472C4"/>
<ellipse cx="1041.0" cy="657.6" rx="7.1" ry="7.45" fill="#4472C4"/>
<ellipse cx="1048.0" cy="667.4" rx="7.1" ry="7.45" fill="#4472C4"/>
<ellipse cx="1102.6" cy="658.3" rx="7.1" ry="7.45" fill="#4472C4"/>
<ellipse cx="1116.6" cy="643.6" rx="7.1" ry="7.45" fill="#4472C4"/>
<ellipse cx="1130.6" cy="643.6" rx="7.1" ry="7.45" fill="#4472C4"/>
<ellipse cx="1157.2" cy="643.6" rx="7.1" ry="7.45" fill="#4472C4"/>
<ellipse cx="1143.2" cy="653.4" rx="7.1" ry="7.45" fill="#4472C4"/>
<ellipse cx="1174.0" cy="645.0" rx="7.1" ry="7.45" fill="#4472C4"/>
<ellipse cx="1179.6" cy="650.6" rx="7.1" ry="7.45" fill="#4472C4"/>
<ellipse cx="1195.0" cy="646.4" rx="7.1" ry="7.45" fill="#4472C4"/>
<ellipse cx="1223.0" cy="633.8" rx="7.1" ry="7.45" fill="#4472C4"/>
<ellipse cx="1228.6" cy="598.8" rx="7.1" ry="7.45" fill="#4472C4"/>
<ellipse cx="1242.6" cy="608.6" rx="7.1" ry="7.45" fill="#4472C4"/>
<ellipse cx="1237.0" cy="607.2" rx="7.1" ry="7.45" fill="#4472C4"/>
<ellipse cx="1211.8" cy="586.2" rx="7.1" ry="7.45" fill="#4472C4"/>
<ellipse cx="1190.8" cy="584.8" rx="7.1" ry="7.45" fill="#4472C4"/>
<ellipse cx="1183.8" cy="591.8" rx="7.1" ry="7.45" fill="#4472C4"/>
<ellipse cx="1158.6" cy="586.2" rx="7.1" ry="7.45" fill="#4472C4"/>
<ellipse cx="1098.4" cy="586.2" rx="7.1" ry="7.45" fill="#4472C4"/>
<ellipse cx="1077.4" cy="589.0" rx="7.1" ry="7.45" fill="#4472C4"/>
<ellipse cx="1055.0" cy="600.2" rx="7.1" ry="7.45" fill="#4472C4"/>
<ellipse cx="1257.0" cy="584.8" rx="7.1" ry="7.45" fill="#4472C4"/>
<ellipse cx="1257.0" cy="594.6" rx="7.1" ry="7.45" fill="#4472C4"/>
<ellipse cx="1315.1" cy="585.5" rx="7.1" ry="7.45" fill="#4472C4"/>
</g><g>
<ellipse cx="1674.5" cy="49.4" rx="7.1" ry="7.45" fill="#ED7D31"/>
<ellipse cx="1509.1" cy="134.8" rx="7.1" ry="7.45" fill="#ED7D31"/>
<ellipse cx="1464.4" cy="184.2" rx="7.1" ry="7.45" fill="#ED7D31"/>
<ellipse cx="1329.8" cy="221.4" rx="7.1" ry="7.45" fill="#ED7D31"/>
<ellipse cx="1380.6" cy="352.9" rx="7.1" ry="7.45" fill="#ED7D31"/>
<ellipse cx="1561.2" cy="332.7" rx="7.1" ry="7.45" fill="#ED7D31"/>
<ellipse cx="1583.5" cy="354.8" rx="7.1" ry="7.45" fill="#ED7D31"/>
<ellipse cx="1500.9" cy="364.9" rx="7.1" ry="7.45" fill="#ED7D31"/>
<ellipse cx="1492.5" cy="365.3" rx="7.1" ry="7.45" fill="#ED7D31"/>
<ellipse cx="1458.3" cy="383.8" rx="7.1" ry="7.45" fill="#ED7D31"/>
<ellipse cx="1520.9" cy="377.9" rx="7.1" ry="7.45" fill="#ED7D31"/>
<ellipse cx="1365.5" cy="391.7" rx="7.1" ry="7.45" fill="#ED7D31"/>
<ellipse cx="1399.9" cy="393.2" rx="7.1" ry="7.45" fill="#ED7D31"/>
<ellipse cx="1568.6" cy="394.7" rx="7.1" ry="7.45" fill="#ED7D31"/>
<ellipse cx="1531.4" cy="411.7" rx="7.1" ry="7.45" fill="#ED7D31"/>
<ellipse cx="1561.2" cy="424.1" rx="7.1" ry="7.45" fill="#ED7D31"/>
<ellipse cx="1407.7" cy="423.9" rx="7.1" ry="7.45" fill="#ED7D31"/>
<ellipse cx="1419.6" cy="442.6" rx="7.1" ry="7.45" fill="#ED7D31"/>
<ellipse cx="1364.4" cy="463.6" rx="7.1" ry="7.45" fill="#ED7D31"/>
<ellipse cx="1358.1" cy="467.1" rx="7.1" ry="7.45" fill="#ED7D31"/>
<ellipse cx="1368.6" cy="479.7" rx="7.1" ry="7.45" fill="#ED7D31"/>
<ellipse cx="1446.5" cy="482.7" rx="7.1" ry="7.45" fill="#ED7D31"/>
<ellipse cx="1577.6" cy="467.1" rx="7.1" ry="7.45" fill="#ED7D31"/>
<ellipse cx="1555.1" cy="478.1" rx="7.1" ry="7.45" fill="#ED7D31"/>
<ellipse cx="1503.0" cy="515.7" rx="7.1" ry="7.45" fill="#ED7D31"/>
<ellipse cx="1371.8" cy="531.8" rx="7.1" ry="7.45" fill="#ED7D31"/>
<ellipse cx="1301.5" cy="379.2" rx="7.1" ry="7.45" fill="#ED7D31"/>
<ellipse cx="1307.4" cy="433.5" rx="7.1" ry="7.45" fill="#ED7D31"/>
<ellipse cx="1252.5" cy="453.0" rx="7.1" ry="7.45" fill="#ED7D31"/>
<ellipse cx="1291.0" cy="451.6" rx="7.1" ry="7.45" fill="#ED7D31"/>
<ellipse cx="1265.1" cy="466.0" rx="7.1" ry="7.45" fill="#ED7D31"/>
<ellipse cx="1260.9" cy="470.2" rx="7.1" ry="7.45" fill="#ED7D31"/>
<ellipse cx="1114.9" cy="485.7" rx="7.1" ry="7.45" fill="#ED7D31"/>
<ellipse cx="1086.5" cy="502.6" rx="7.1" ry="7.45" fill="#ED7D31"/>
<ellipse cx="1122.2" cy="511.7" rx="7.1" ry="7.45" fill="#ED7D31"/>
<ellipse cx="1142.1" cy="512.0" rx="7.1" ry="7.45" fill="#ED7D31"/>
<ellipse cx="1105.8" cy="529.5" rx="7.1" ry="7.45" fill="#ED7D31"/>
<ellipse cx="1145.0" cy="535.4" rx="7.1" ry="7.45" fill="#ED7D31"/>
<ellipse cx="1169.1" cy="493.8" rx="7.1" ry="7.45" fill="#ED7D31"/>
<ellipse cx="1161.4" cy="487.1" rx="7.1" ry="7.45" fill="#ED7D31"/>
<ellipse cx="1188.0" cy="496.3" rx="7.1" ry="7.45" fill="#ED7D31"/>
<ellipse cx="1210.4" cy="488.9" rx="7.1" ry="7.45" fill="#ED7D31"/>
<ellipse cx="1178.2" cy="519.0" rx="7.1" ry="7.45" fill="#ED7D31"/>
<ellipse cx="1170.5" cy="528.8" rx="7.1" ry="7.45" fill="#ED7D31"/>
<ellipse cx="1230.0" cy="519.3" rx="7.1" ry="7.45" fill="#ED7D31"/>
<ellipse cx="1252.4" cy="485.4" rx="7.1" ry="7.45" fill="#ED7D31"/>
<ellipse cx="1247.5" cy="483.3" rx="7.1" ry="7.45" fill="#ED7D31"/>
<ellipse cx="1237.7" cy="484.0" rx="7.1" ry="7.45" fill="#ED7D31"/>
<ellipse cx="1050.8" cy="563.1" rx="7.1" ry="7.45" fill="#ED7D31"/>
<ellipse cx="1095.6" cy="561.7" rx="7.1" ry="7.45" fill="#ED7D31"/>
<ellipse cx="1168.8" cy="567.3" rx="7.1" ry="7.45" fill="#ED7D31"/>
<ellipse cx="1229.3" cy="570.8" rx="7.1" ry="7.45" fill="#ED7D31"/>
<ellipse cx="1225.5" cy="565.2" rx="7.1" ry="7.45" fill="#ED7D31"/>
<ellipse cx="1248.2" cy="575.7" rx="7.1" ry="7.45" fill="#ED7D31"/>
<ellipse cx="1267.5" cy="480.5" rx="7.1" ry="7.45" fill="#ED7D31"/>
<ellipse cx="1285.0" cy="485.4" rx="7.1" ry="7.45" fill="#ED7D31"/>
<ellipse cx="1271.7" cy="493.8" rx="7.1" ry="7.45" fill="#ED7D31"/>
<ellipse cx="1282.2" cy="501.5" rx="7.1" ry="7.45" fill="#ED7D31"/>
<ellipse cx="1302.9" cy="500.8" rx="7.1" ry="7.45" fill="#ED7D31"/>
<ellipse cx="1336.8" cy="481.2" rx="7.1" ry="7.45" fill="#ED7D31"/>
<ellipse cx="1326.7" cy="495.2" rx="7.1" ry="7.45" fill="#ED7D31"/>
<ellipse cx="1326.7" cy="535.5" rx="7.1" ry="7.45" fill="#ED7D31"/>
<ellipse cx="1352.2" cy="533.0" rx="7.1" ry="7.45" fill="#ED7D31"/>
<ellipse cx="1350.8" cy="543.5" rx="7.1" ry="7.45" fill="#ED7D31"/>
<ellipse cx="1295.5" cy="544.9" rx="7.1" ry="7.45" fill="#ED7D31"/>
<ellipse cx="1322.1" cy="558.9" rx="7.1" ry="7.45" fill="#ED7D31"/>
<ellipse cx="1351.9" cy="556.1" rx="7.1" ry="7.45" fill="#ED7D31"/>
<ellipse cx="1288.5" cy="561.7" rx="7.1" ry="7.45" fill="#ED7D31"/>
<ellipse cx="1276.3" cy="561.7" rx="7.1" ry="7.45" fill="#ED7D31"/>
<ellipse cx="1063.4" cy="585.5" rx="7.1" ry="7.45" fill="#ED7D31"/>
<ellipse cx="1052.2" cy="588.3" rx="7.1" ry="7.45" fill="#ED7D31"/>
<ellipse cx="1062.0" cy="610.0" rx="7.1" ry="7.45" fill="#ED7D31"/>
<ellipse cx="1062.7" cy="601.6" rx="7.1" ry="7.45" fill="#ED7D31"/>
<ellipse cx="1084.4" cy="593.2" rx="7.1" ry="7.45" fill="#ED7D31"/>
<ellipse cx="1080.9" cy="598.8" rx="7.1" ry="7.45" fill="#ED7D31"/>
<ellipse cx="1111.0" cy="587.6" rx="7.1" ry="7.45" fill="#ED7D31"/>
<ellipse cx="1143.2" cy="596.0" rx="7.1" ry="7.45" fill="#ED7D31"/>
<ellipse cx="1132.0" cy="600.2" rx="7.1" ry="7.45" fill="#ED7D31"/>
<ellipse cx="1120.8" cy="601.6" rx="7.1" ry="7.45" fill="#ED7D31"/>
<ellipse cx="1140.4" cy="609.3" rx="7.1" ry="7.45" fill="#ED7D31"/>
<ellipse cx="1126.4" cy="611.4" rx="7.1" ry="7.45" fill="#ED7D31"/>
<ellipse cx="1113.8" cy="612.8" rx="7.1" ry="7.45" fill="#ED7D31"/>
<ellipse cx="1084.4" cy="615.6" rx="7.1" ry="7.45" fill="#ED7D31"/>
<ellipse cx="1101.9" cy="616.3" rx="7.1" ry="7.45" fill="#ED7D31"/>
<ellipse cx="1070.4" cy="622.6" rx="7.1" ry="7.45" fill="#ED7D31"/>
<ellipse cx="1172.6" cy="596.0" rx="7.1" ry="7.45" fill="#ED7D31"/>
<ellipse cx="1173.3" cy="603.7" rx="7.1" ry="7.45" fill="#ED7D31"/>
<ellipse cx="1219.5" cy="602.3" rx="7.1" ry="7.45" fill="#ED7D31"/>
<ellipse cx="1225.8" cy="621.9" rx="7.1" ry="7.45" fill="#ED7D31"/>
<ellipse cx="1221.6" cy="628.9" rx="7.1" ry="7.45" fill="#ED7D31"/>
<ellipse cx="1215.3" cy="623.3" rx="7.1" ry="7.45" fill="#ED7D31"/>
<ellipse cx="1240.5" cy="620.9" rx="7.1" ry="7.45" fill="#ED7D31"/>
<ellipse cx="1200.6" cy="637.3" rx="7.1" ry="7.45" fill="#ED7D31"/>
<ellipse cx="1198.9" cy="630.3" rx="7.1" ry="7.45" fill="#ED7D31"/>
<ellipse cx="1162.8" cy="634.5" rx="7.1" ry="7.45" fill="#ED7D31"/>
<ellipse cx="1124.3" cy="629.6" rx="7.1" ry="7.45" fill="#ED7D31"/>
<ellipse cx="1116.6" cy="635.9" rx="7.1" ry="7.45" fill="#ED7D31"/>
<ellipse cx="1105.4" cy="635.9" rx="7.1" ry="7.45" fill="#ED7D31"/>
<ellipse cx="1094.2" cy="637.3" rx="7.1" ry="7.45" fill="#ED7D31"/>
<ellipse cx="1084.4" cy="628.2" rx="7.1" ry="7.45" fill="#ED7D31"/>
<ellipse cx="1063.4" cy="635.9" rx="7.1" ry="7.45" fill="#ED7D31"/>
<ellipse cx="1150.2" cy="643.6" rx="7.1" ry="7.45" fill="#ED7D31"/>
<ellipse cx="1143.2" cy="647.1" rx="7.1" ry="7.45" fill="#ED7D31"/>
<ellipse cx="1074.6" cy="659.0" rx="7.1" ry="7.45" fill="#ED7D31"/>
<ellipse cx="1083.0" cy="661.8" rx="7.1" ry="7.45" fill="#ED7D31"/>
<ellipse cx="1073.2" cy="649.9" rx="7.1" ry="7.45" fill="#ED7D31"/>
<ellipse cx="1037.5" cy="666.7" rx="7.1" ry="7.45" fill="#ED7D31"/>
<ellipse cx="1276.3" cy="597.1" rx="7.1" ry="7.45" fill="#ED7D31"/>
<ellipse cx="1259.8" cy="607.2" rx="7.1" ry="7.45" fill="#ED7D31"/>
<ellipse cx="1276.3" cy="611.4" rx="7.1" ry="7.45" fill="#ED7D31"/>
<ellipse cx="1329.8" cy="584.1" rx="7.1" ry="7.45" fill="#ED7D31"/>
</g>
<line x1="1001.4" y1="702.3" x2="1710.4" y2="15.1" stroke="#000" stroke-width="4.4"/>
<text transform="translate(1001.4,759.7) scale(1.0,1.06)" text-anchor="middle" font-size="37.4" xml:space="preserve">0</text>
<text transform="translate(970.6,713.9) scale(1.0,1.06)" text-anchor="end" font-size="37.4" xml:space="preserve">0</text>
<text transform="translate(1143.2,759.7) scale(1.0,1.06)" text-anchor="middle" font-size="37.4" xml:space="preserve">0.2</text>
<text transform="translate(970.6,576.5) scale(1.0,1.06)" text-anchor="end" font-size="37.4" xml:space="preserve">0.2</text>
<text transform="translate(1285.0,759.7) scale(1.0,1.06)" text-anchor="middle" font-size="37.4" xml:space="preserve">0.4</text>
<text transform="translate(970.6,439.0) scale(1.0,1.06)" text-anchor="end" font-size="37.4" xml:space="preserve">0.4</text>
<text transform="translate(1426.8,759.7) scale(1.0,1.06)" text-anchor="middle" font-size="37.4" xml:space="preserve">0.6</text>
<text transform="translate(970.6,301.6) scale(1.0,1.06)" text-anchor="end" font-size="37.4" xml:space="preserve">0.6</text>
<text transform="translate(1568.6,759.7) scale(1.0,1.06)" text-anchor="middle" font-size="37.4" xml:space="preserve">0.8</text>
<text transform="translate(970.6,164.1) scale(1.0,1.06)" text-anchor="end" font-size="37.4" xml:space="preserve">0.8</text>
<text transform="translate(1710.4,759.7) scale(1.0,1.06)" text-anchor="middle" font-size="37.4" xml:space="preserve">1</text>
<text transform="translate(970.6,26.7) scale(1.0,1.06)" text-anchor="end" font-size="37.4" xml:space="preserve">1</text>
<text transform="translate(1352.9,795.6) scale(1.0,1.06)" text-anchor="middle" font-size="37.4" xml:space="preserve">Normalized observed SDR</text>
<text transform="translate(912,355) rotate(-90) scale(1.016,1.0)" text-anchor="middle" font-size="37.4" xml:space="preserve">Normalized Predicted SDR</text>
<ellipse cx="1044.8" cy="46.7" rx="7.25" ry="7.95" fill="#4472C4" style="stroke-width:2.85"/>
<text transform="translate(1083,59) scale(1.0,1.06)" text-anchor="start" font-size="37.4" xml:space="preserve">GEP-Model-2 ( Training)</text>
<ellipse cx="1045" cy="90" rx="7.25" ry="7.95" fill="#ED7D31" style="stroke-width:2.85"/>
<text transform="translate(1083,102) scale(1.0,1.06)" text-anchor="start" font-size="37.4" xml:space="preserve">GEP-Model-2 ( Testing)</text>
<line x1="1016.4" y1="133.4" x2="1075.3" y2="133.4" stroke="#000" stroke-width="4.4" stroke-linecap="round"/>
<text transform="translate(1081,147.4) scale(1.012,1.06)" text-anchor="start" font-size="37.4" xml:space="preserve">Best fit line</text>
<text transform="translate(1642.9,680.5) scale(1.03,1.06)" text-anchor="start" font-size="43" xml:space="preserve">(b)</text>
</g>
</svg></body></html>
